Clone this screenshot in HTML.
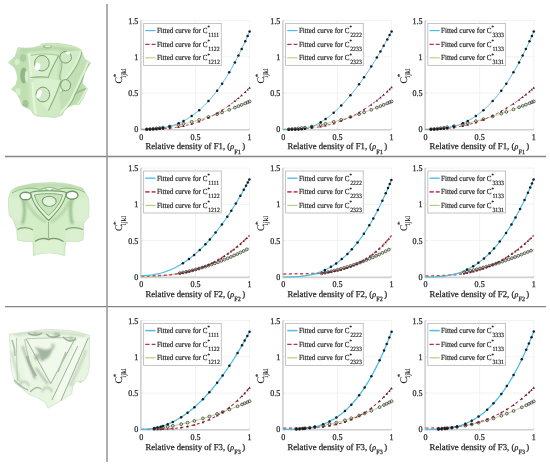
<!DOCTYPE html>
<html><head><meta charset="utf-8"><title>Figure</title><style>
html,body{margin:0;padding:0;background:#fff;}
svg{display:block;}
text{font-family:"Liberation Serif", "Times New Roman", serif;fill:#262626;text-rendering:geometricPrecision;stroke:#262626;stroke-width:0.25px;}
.tk{font-size:8.8px;}
.xl{font-size:9px;}
.sub{font-size:6.4px;}
.rho{font-size:8.2px;}
.yl{font-size:10px;stroke-width:0.12px;}
.ysup{font-size:7px;}
.ysub{font-size:7px;}
.lg{font-size:7.7px;stroke-width:0.2px;}
.lsup{font-size:5.2px;}
.lsub{font-size:6.3px;}
</style></head>
<body><svg width="550" height="466" viewBox="0 0 550 466">
<rect width="550" height="466" fill="#fff"/>
<line x1="5" y1="156.5" x2="546" y2="156.5" stroke="#858585" stroke-width="1.4"/>
<line x1="5" y1="306.6" x2="546" y2="306.6" stroke="#858585" stroke-width="1.4"/>
<line x1="107" y1="4" x2="107" y2="462" stroke="#9a9a9a" stroke-width="1.6"/>
<line x1="195.45" y1="129.40" x2="195.45" y2="20.50" stroke="#efefef" stroke-width="0.8"/>
<line x1="249.60" y1="129.40" x2="249.60" y2="20.50" stroke="#efefef" stroke-width="0.8"/>
<line x1="141.30" y1="93.10" x2="249.60" y2="93.10" stroke="#efefef" stroke-width="0.8"/>
<line x1="141.30" y1="56.80" x2="249.60" y2="56.80" stroke="#efefef" stroke-width="0.8"/>
<line x1="141.30" y1="20.50" x2="249.60" y2="20.50" stroke="#efefef" stroke-width="0.8"/>
<path d="M140.90 20.50 L140.90 129.80 L249.60 129.80" fill="none" stroke="#d0d0d0" stroke-width="1.6"/>
<line x1="141.30" y1="93.10" x2="142.50" y2="93.10" stroke="#d0d0d0" stroke-width="0.8"/>
<line x1="141.30" y1="56.80" x2="142.50" y2="56.80" stroke="#d0d0d0" stroke-width="0.8"/>
<line x1="141.30" y1="20.50" x2="142.50" y2="20.50" stroke="#d0d0d0" stroke-width="0.8"/>
<line x1="195.45" y1="129.40" x2="195.45" y2="128.20" stroke="#d0d0d0" stroke-width="0.8"/>
<line x1="249.60" y1="129.40" x2="249.60" y2="128.20" stroke="#d0d0d0" stroke-width="0.8"/>
<text transform="translate(138.30,132.40) scale(0.92,1)" text-anchor="end" class="tk">0</text>
<text transform="translate(138.30,96.10) scale(0.92,1)" text-anchor="end" class="tk">0.5</text>
<text transform="translate(138.30,59.80) scale(0.92,1)" text-anchor="end" class="tk">1</text>
<text transform="translate(138.30,23.50) scale(0.92,1)" text-anchor="end" class="tk">1.5</text>
<text transform="translate(141.30,139.80) scale(0.92,1)" text-anchor="middle" class="tk">0</text>
<text transform="translate(195.45,139.80) scale(0.92,1)" text-anchor="middle" class="tk">0.5</text>
<text transform="translate(249.60,139.80) scale(0.92,1)" text-anchor="middle" class="tk">1</text>
<text transform="translate(145.40,149.30) scale(0.972,1)" class="xl">Relative density of F1, (<tspan font-style="italic" class="rho">ρ</tspan><tspan class="sub" dx="0.3" dy="4.2">F1</tspan><tspan dx="1.3" dy="-4.2">)</tspan></text>
<text transform="translate(122.30,75.85) rotate(-90)" text-anchor="middle" class="yl">C<tspan class="ysup" dx="-0.6" dy="-4.7">*</tspan><tspan class="ysub" dx="-3.8" dy="7.9">ijkl</tspan></text>
<polyline points="141.30,129.40 142.21,129.39 143.12,129.37 144.03,129.35 144.94,129.31 145.85,129.27 146.76,129.23 147.67,129.17 148.58,129.12 149.49,129.05 150.40,128.99 151.31,128.91 152.22,128.83 153.13,128.75 154.04,128.66 154.95,128.57 155.86,128.48 156.77,128.38 157.68,128.27 158.59,128.16 159.50,128.05 160.41,127.94 161.32,127.81 162.23,127.69 163.14,127.56 164.05,127.43 164.96,127.29 165.87,127.15 166.78,127.01 167.69,126.86 168.60,126.71 169.51,126.56 170.42,126.40 171.33,126.24 172.24,126.08 173.15,125.91 174.06,125.74 174.97,125.56 175.88,125.39 176.79,125.20 177.70,125.02 178.61,124.83 179.52,124.64 180.43,124.45 181.34,124.25 182.25,124.05 183.16,123.85 184.07,123.64 184.98,123.43 185.89,123.22 186.80,123.00 187.71,122.78 188.62,122.56 189.53,122.33 190.44,122.10 191.35,121.87 192.26,121.64 193.17,121.40 194.08,121.16 194.99,120.92 195.91,120.67 196.82,120.43 197.73,120.17 198.64,119.92 199.55,119.66 200.46,119.40 201.37,119.14 202.28,118.87 203.19,118.60 204.10,118.33 205.01,118.06 205.92,117.78 206.83,117.50 207.74,117.22 208.65,116.94 209.56,116.65 210.47,116.36 211.38,116.06 212.29,115.77 213.20,115.47 214.11,115.17 215.02,114.87 215.93,114.56 216.84,114.25 217.75,113.94 218.66,113.62 219.57,113.31 220.48,112.99 221.39,112.67 222.30,112.34 223.21,112.01 224.12,111.69 225.03,111.35 225.94,111.02 226.85,110.68 227.76,110.34 228.67,110.00 229.58,109.65 230.49,109.31 231.40,108.96 232.31,108.60 233.22,108.25 234.13,107.89 235.04,107.53 235.95,107.17 236.86,106.81 237.77,106.44 238.68,106.07 239.59,105.70 240.50,105.32 241.41,104.95 242.32,104.57 243.23,104.19 244.14,103.80 245.05,103.42 245.96,103.03 246.87,102.64 247.78,102.24 248.69,101.85 249.60,101.45" fill="none" stroke="#b0d080" stroke-width="0.9"/>
<polyline points="141.30,129.40 142.21,129.40 143.12,129.40 144.03,129.40 144.94,129.39 145.85,129.39 146.76,129.38 147.67,129.38 148.58,129.37 149.49,129.36 150.40,129.34 151.31,129.32 152.22,129.30 153.13,129.28 154.04,129.26 154.95,129.23 155.86,129.20 156.77,129.16 157.68,129.12 158.59,129.08 159.50,129.03 160.41,128.98 161.32,128.92 162.23,128.86 163.14,128.80 164.05,128.73 164.96,128.66 165.87,128.58 166.78,128.50 167.69,128.41 168.60,128.32 169.51,128.22 170.42,128.11 171.33,128.01 172.24,127.89 173.15,127.77 174.06,127.64 174.97,127.51 175.88,127.37 176.79,127.23 177.70,127.08 178.61,126.92 179.52,126.76 180.43,126.59 181.34,126.41 182.25,126.23 183.16,126.04 184.07,125.84 184.98,125.64 185.89,125.42 186.80,125.21 187.71,124.98 188.62,124.75 189.53,124.51 190.44,124.26 191.35,124.00 192.26,123.74 193.17,123.46 194.08,123.18 194.99,122.90 195.91,122.60 196.82,122.30 197.73,121.98 198.64,121.66 199.55,121.33 200.46,120.99 201.37,120.65 202.28,120.29 203.19,119.93 204.10,119.55 205.01,119.17 205.92,118.78 206.83,118.38 207.74,117.97 208.65,117.55 209.56,117.12 210.47,116.68 211.38,116.23 212.29,115.77 213.20,115.30 214.11,114.83 215.02,114.34 215.93,113.84 216.84,113.33 217.75,112.81 218.66,112.29 219.57,111.75 220.48,111.20 221.39,110.64 222.30,110.07 223.21,109.49 224.12,108.89 225.03,108.29 225.94,107.68 226.85,107.05 227.76,106.42 228.67,105.77 229.58,105.11 230.49,104.45 231.40,103.76 232.31,103.07 233.22,102.37 234.13,101.65 235.04,100.93 235.95,100.19 236.86,99.44 237.77,98.68 238.68,97.90 239.59,97.12 240.50,96.32 241.41,95.51 242.32,94.69 243.23,93.85 244.14,93.00 245.05,92.14 245.96,91.27 246.87,90.39 247.78,89.49 248.69,88.58 249.60,87.66" fill="none" stroke="#b8304a" stroke-width="1.0" stroke-dasharray="3,2.6"/>
<polyline points="141.30,129.40 142.21,129.40 143.12,129.40 144.03,129.39 144.94,129.39 145.85,129.37 146.76,129.36 147.67,129.34 148.58,129.31 149.49,129.28 150.40,129.24 151.31,129.20 152.22,129.15 153.13,129.09 154.04,129.02 154.95,128.95 155.86,128.87 156.77,128.78 157.68,128.68 158.59,128.57 159.50,128.45 160.41,128.32 161.32,128.18 162.23,128.03 163.14,127.87 164.05,127.70 164.96,127.52 165.87,127.33 166.78,127.12 167.69,126.90 168.60,126.68 169.51,126.43 170.42,126.18 171.33,125.91 172.24,125.63 173.15,125.33 174.06,125.02 174.97,124.70 175.88,124.36 176.79,124.01 177.70,123.64 178.61,123.26 179.52,122.86 180.43,122.45 181.34,122.02 182.25,121.58 183.16,121.12 184.07,120.64 184.98,120.15 185.89,119.64 186.80,119.12 187.71,118.57 188.62,118.01 189.53,117.43 190.44,116.84 191.35,116.22 192.26,115.59 193.17,114.94 194.08,114.27 194.99,113.59 195.91,112.88 196.82,112.15 197.73,111.41 198.64,110.64 199.55,109.86 200.46,109.06 201.37,108.23 202.28,107.39 203.19,106.52 204.10,105.64 205.01,104.73 205.92,103.81 206.83,102.86 207.74,101.89 208.65,100.90 209.56,99.89 210.47,98.85 211.38,97.80 212.29,96.72 213.20,95.62 214.11,94.50 215.02,93.35 215.93,92.18 216.84,90.99 217.75,89.77 218.66,88.54 219.57,87.27 220.48,85.99 221.39,84.68 222.30,83.35 223.21,81.99 224.12,80.61 225.03,79.20 225.94,77.77 226.85,76.31 227.76,74.83 228.67,73.33 229.58,71.80 230.49,70.24 231.40,68.66 232.31,67.05 233.22,65.41 234.13,63.75 235.04,62.07 235.95,60.35 236.86,58.62 237.77,56.85 238.68,55.06 239.59,53.24 240.50,51.39 241.41,49.51 242.32,47.61 243.23,45.68 244.14,43.73 245.05,41.74 245.96,39.73 246.87,37.69 247.78,35.62 248.69,33.52 249.60,31.39" fill="none" stroke="#4dbdec" stroke-width="1.0"/>
<circle cx="146.72" cy="129.23" r="1.4" fill="none" stroke="#3e3e3e" stroke-width="0.8"/>
<circle cx="149.96" cy="129.02" r="1.4" fill="none" stroke="#3e3e3e" stroke-width="0.8"/>
<circle cx="153.21" cy="128.74" r="1.4" fill="none" stroke="#3e3e3e" stroke-width="0.8"/>
<circle cx="156.46" cy="128.41" r="1.4" fill="none" stroke="#3e3e3e" stroke-width="0.8"/>
<circle cx="159.71" cy="128.03" r="1.4" fill="none" stroke="#3e3e3e" stroke-width="0.8"/>
<circle cx="162.96" cy="127.59" r="1.4" fill="none" stroke="#3e3e3e" stroke-width="0.8"/>
<circle cx="169.67" cy="126.53" r="1.4" fill="none" stroke="#3e3e3e" stroke-width="0.8"/>
<circle cx="178.66" cy="124.82" r="1.4" fill="none" stroke="#3e3e3e" stroke-width="0.8"/>
<circle cx="183.54" cy="123.76" r="1.4" fill="none" stroke="#3e3e3e" stroke-width="0.8"/>
<circle cx="191.66" cy="121.80" r="1.4" fill="none" stroke="#3e3e3e" stroke-width="0.8"/>
<circle cx="199.24" cy="119.75" r="1.4" fill="none" stroke="#3e3e3e" stroke-width="0.8"/>
<circle cx="208.45" cy="117.00" r="1.4" fill="none" stroke="#3e3e3e" stroke-width="0.8"/>
<circle cx="217.11" cy="114.16" r="1.4" fill="none" stroke="#3e3e3e" stroke-width="0.8"/>
<circle cx="222.09" cy="112.42" r="1.4" fill="none" stroke="#3e3e3e" stroke-width="0.8"/>
<circle cx="229.24" cy="109.78" r="1.4" fill="none" stroke="#3e3e3e" stroke-width="0.8"/>
<circle cx="234.87" cy="107.60" r="1.4" fill="none" stroke="#3e3e3e" stroke-width="0.8"/>
<circle cx="238.45" cy="106.16" r="1.4" fill="none" stroke="#3e3e3e" stroke-width="0.8"/>
<circle cx="241.69" cy="104.83" r="1.4" fill="none" stroke="#3e3e3e" stroke-width="0.8"/>
<circle cx="245.27" cy="103.32" r="1.4" fill="none" stroke="#3e3e3e" stroke-width="0.8"/>
<circle cx="247.65" cy="102.30" r="1.4" fill="none" stroke="#3e3e3e" stroke-width="0.8"/>
<circle cx="249.60" cy="101.45" r="1.4" fill="none" stroke="#3e3e3e" stroke-width="0.8"/>
<path d="M145.52 130.39 L147.91 130.39 L146.72 128.19Z" fill="#5a1f2a"/>
<path d="M148.76 130.35 L151.16 130.35 L149.96 128.15Z" fill="#5a1f2a"/>
<path d="M152.01 130.28 L154.41 130.28 L153.21 128.08Z" fill="#5a1f2a"/>
<path d="M155.26 130.17 L157.66 130.17 L156.46 127.97Z" fill="#5a1f2a"/>
<path d="M158.51 130.02 L160.91 130.02 L159.71 127.82Z" fill="#5a1f2a"/>
<path d="M161.76 129.81 L164.16 129.81 L162.96 127.61Z" fill="#5a1f2a"/>
<path d="M168.47 129.20 L170.87 129.20 L169.67 127.00Z" fill="#5a1f2a"/>
<path d="M177.46 127.91 L179.86 127.91 L178.66 125.71Z" fill="#5a1f2a"/>
<path d="M182.34 126.96 L184.74 126.96 L183.54 124.76Z" fill="#5a1f2a"/>
<path d="M190.46 124.91 L192.86 124.91 L191.66 122.71Z" fill="#5a1f2a"/>
<path d="M198.04 122.44 L200.44 122.44 L199.24 120.24Z" fill="#5a1f2a"/>
<path d="M207.25 118.64 L209.65 118.64 L208.45 116.44Z" fill="#5a1f2a"/>
<path d="M215.91 114.18 L218.31 114.18 L217.11 111.98Z" fill="#5a1f2a"/>
<path d="M220.89 111.20 L223.29 111.20 L222.09 109.00Z" fill="#5a1f2a"/>
<path d="M228.04 106.36 L230.44 106.36 L229.24 104.16Z" fill="#5a1f2a"/>
<path d="M233.67 102.06 L236.07 102.06 L234.87 99.86Z" fill="#5a1f2a"/>
<path d="M237.25 99.10 L239.65 99.10 L238.45 96.90Z" fill="#5a1f2a"/>
<path d="M240.49 96.25 L242.89 96.25 L241.69 94.05Z" fill="#5a1f2a"/>
<path d="M244.07 92.94 L246.47 92.94 L245.27 90.74Z" fill="#5a1f2a"/>
<path d="M246.45 90.62 L248.85 90.62 L247.65 88.42Z" fill="#5a1f2a"/>
<path d="M248.40 88.66 L250.80 88.66 L249.60 86.46Z" fill="#5a1f2a"/>
<circle cx="146.72" cy="129.36" r="1.25" fill="#1a1a1a"/>
<circle cx="149.96" cy="129.26" r="1.25" fill="#1a1a1a"/>
<circle cx="153.21" cy="129.08" r="1.25" fill="#1a1a1a"/>
<circle cx="156.46" cy="128.81" r="1.25" fill="#1a1a1a"/>
<circle cx="159.71" cy="128.42" r="1.25" fill="#1a1a1a"/>
<circle cx="162.96" cy="127.91" r="1.25" fill="#1a1a1a"/>
<circle cx="169.67" cy="126.39" r="1.25" fill="#1a1a1a"/>
<circle cx="178.66" cy="123.24" r="1.25" fill="#1a1a1a"/>
<circle cx="183.54" cy="120.93" r="1.25" fill="#1a1a1a"/>
<circle cx="191.66" cy="116.01" r="1.25" fill="#1a1a1a"/>
<circle cx="199.24" cy="110.13" r="1.25" fill="#1a1a1a"/>
<circle cx="208.45" cy="101.12" r="1.25" fill="#1a1a1a"/>
<circle cx="217.11" cy="90.63" r="1.25" fill="#1a1a1a"/>
<circle cx="222.09" cy="83.65" r="1.25" fill="#1a1a1a"/>
<circle cx="229.24" cy="72.37" r="1.25" fill="#1a1a1a"/>
<circle cx="234.87" cy="62.38" r="1.25" fill="#1a1a1a"/>
<circle cx="238.45" cy="55.52" r="1.25" fill="#1a1a1a"/>
<circle cx="241.69" cy="48.92" r="1.25" fill="#1a1a1a"/>
<circle cx="245.27" cy="41.26" r="1.25" fill="#1a1a1a"/>
<circle cx="247.65" cy="35.91" r="1.25" fill="#1a1a1a"/>
<circle cx="249.60" cy="31.39" r="1.25" fill="#1a1a1a"/>
<rect x="143.60" y="23.40" width="77.70" height="42.00" fill="#fff" stroke="#bdbdbd" stroke-width="0.9"/>
<line x1="145.30" y1="30.60" x2="155.50" y2="30.60" stroke="#4dbdec" stroke-width="1.2"/>
<text transform="translate(156.90,32.90) scale(0.92,1)" class="lg">Fitted curve for C<tspan class="lsup" dy="-3.6">*</tspan><tspan class="lsub" dx="-1.7" dy="7.6">1111</tspan></text>
<line x1="145.30" y1="44.30" x2="155.50" y2="44.30" stroke="#b8304a" stroke-width="1.2" stroke-dasharray="4.3,2"/>
<text transform="translate(156.90,46.60) scale(0.92,1)" class="lg">Fitted curve for C<tspan class="lsup" dy="-3.6">*</tspan><tspan class="lsub" dx="-1.7" dy="7.6">1122</tspan></text>
<line x1="145.30" y1="57.80" x2="155.50" y2="57.80" stroke="#b0d080" stroke-width="1.1"/>
<text transform="translate(156.90,60.10) scale(0.92,1)" class="lg">Fitted curve for C<tspan class="lsup" dy="-3.6">*</tspan><tspan class="lsub" dx="-1.7" dy="7.6">1212</tspan></text>
<line x1="337.45" y1="129.40" x2="337.45" y2="20.50" stroke="#efefef" stroke-width="0.8"/>
<line x1="391.60" y1="129.40" x2="391.60" y2="20.50" stroke="#efefef" stroke-width="0.8"/>
<line x1="283.30" y1="93.10" x2="391.60" y2="93.10" stroke="#efefef" stroke-width="0.8"/>
<line x1="283.30" y1="56.80" x2="391.60" y2="56.80" stroke="#efefef" stroke-width="0.8"/>
<line x1="283.30" y1="20.50" x2="391.60" y2="20.50" stroke="#efefef" stroke-width="0.8"/>
<path d="M282.90 20.50 L282.90 129.80 L391.60 129.80" fill="none" stroke="#d0d0d0" stroke-width="1.6"/>
<line x1="283.30" y1="93.10" x2="284.50" y2="93.10" stroke="#d0d0d0" stroke-width="0.8"/>
<line x1="283.30" y1="56.80" x2="284.50" y2="56.80" stroke="#d0d0d0" stroke-width="0.8"/>
<line x1="283.30" y1="20.50" x2="284.50" y2="20.50" stroke="#d0d0d0" stroke-width="0.8"/>
<line x1="337.45" y1="129.40" x2="337.45" y2="128.20" stroke="#d0d0d0" stroke-width="0.8"/>
<line x1="391.60" y1="129.40" x2="391.60" y2="128.20" stroke="#d0d0d0" stroke-width="0.8"/>
<text transform="translate(280.30,132.40) scale(0.92,1)" text-anchor="end" class="tk">0</text>
<text transform="translate(280.30,96.10) scale(0.92,1)" text-anchor="end" class="tk">0.5</text>
<text transform="translate(280.30,59.80) scale(0.92,1)" text-anchor="end" class="tk">1</text>
<text transform="translate(280.30,23.50) scale(0.92,1)" text-anchor="end" class="tk">1.5</text>
<text transform="translate(283.30,139.80) scale(0.92,1)" text-anchor="middle" class="tk">0</text>
<text transform="translate(337.45,139.80) scale(0.92,1)" text-anchor="middle" class="tk">0.5</text>
<text transform="translate(391.60,139.80) scale(0.92,1)" text-anchor="middle" class="tk">1</text>
<text transform="translate(287.40,149.30) scale(0.972,1)" class="xl">Relative density of F1, (<tspan font-style="italic" class="rho">ρ</tspan><tspan class="sub" dx="0.3" dy="4.2">F1</tspan><tspan dx="1.3" dy="-4.2">)</tspan></text>
<text transform="translate(264.30,75.85) rotate(-90)" text-anchor="middle" class="yl">C<tspan class="ysup" dx="-0.6" dy="-4.7">*</tspan><tspan class="ysub" dx="-3.8" dy="7.9">ijkl</tspan></text>
<polyline points="283.30,129.40 284.21,129.39 285.12,129.37 286.03,129.35 286.94,129.31 287.85,129.27 288.76,129.23 289.67,129.17 290.58,129.12 291.49,129.05 292.40,128.99 293.31,128.91 294.22,128.83 295.13,128.75 296.04,128.66 296.95,128.57 297.86,128.48 298.77,128.38 299.68,128.27 300.59,128.16 301.50,128.05 302.41,127.94 303.32,127.81 304.23,127.69 305.14,127.56 306.05,127.43 306.96,127.29 307.87,127.15 308.78,127.01 309.69,126.86 310.60,126.71 311.51,126.56 312.42,126.40 313.33,126.24 314.24,126.08 315.15,125.91 316.06,125.74 316.97,125.56 317.88,125.39 318.79,125.20 319.70,125.02 320.61,124.83 321.52,124.64 322.43,124.45 323.34,124.25 324.25,124.05 325.16,123.85 326.07,123.64 326.98,123.43 327.89,123.22 328.80,123.00 329.71,122.78 330.62,122.56 331.53,122.33 332.44,122.10 333.35,121.87 334.26,121.64 335.17,121.40 336.08,121.16 336.99,120.92 337.91,120.67 338.82,120.43 339.73,120.17 340.64,119.92 341.55,119.66 342.46,119.40 343.37,119.14 344.28,118.87 345.19,118.60 346.10,118.33 347.01,118.06 347.92,117.78 348.83,117.50 349.74,117.22 350.65,116.94 351.56,116.65 352.47,116.36 353.38,116.06 354.29,115.77 355.20,115.47 356.11,115.17 357.02,114.87 357.93,114.56 358.84,114.25 359.75,113.94 360.66,113.62 361.57,113.31 362.48,112.99 363.39,112.67 364.30,112.34 365.21,112.01 366.12,111.69 367.03,111.35 367.94,111.02 368.85,110.68 369.76,110.34 370.67,110.00 371.58,109.65 372.49,109.31 373.40,108.96 374.31,108.60 375.22,108.25 376.13,107.89 377.04,107.53 377.95,107.17 378.86,106.81 379.77,106.44 380.68,106.07 381.59,105.70 382.50,105.32 383.41,104.95 384.32,104.57 385.23,104.19 386.14,103.80 387.05,103.42 387.96,103.03 388.87,102.64 389.78,102.24 390.69,101.85 391.60,101.45" fill="none" stroke="#b0d080" stroke-width="0.9"/>
<polyline points="283.30,129.40 284.21,129.40 285.12,129.40 286.03,129.40 286.94,129.39 287.85,129.39 288.76,129.38 289.67,129.37 290.58,129.36 291.49,129.34 292.40,129.32 293.31,129.30 294.22,129.28 295.13,129.25 296.04,129.22 296.95,129.19 297.86,129.15 298.77,129.11 299.68,129.06 300.59,129.01 301.50,128.95 302.41,128.89 303.32,128.83 304.23,128.76 305.14,128.69 306.05,128.61 306.96,128.53 307.87,128.44 308.78,128.35 309.69,128.25 310.60,128.15 311.51,128.04 312.42,127.92 313.33,127.80 314.24,127.67 315.15,127.54 316.06,127.40 316.97,127.26 317.88,127.11 318.79,126.95 319.70,126.79 320.61,126.62 321.52,126.44 322.43,126.26 323.34,126.07 324.25,125.87 325.16,125.67 326.07,125.46 326.98,125.24 327.89,125.02 328.80,124.79 329.71,124.55 330.62,124.30 331.53,124.05 332.44,123.79 333.35,123.52 334.26,123.24 335.17,122.96 336.08,122.66 336.99,122.36 337.91,122.05 338.82,121.74 339.73,121.41 340.64,121.08 341.55,120.74 342.46,120.39 343.37,120.03 344.28,119.67 345.19,119.29 346.10,118.91 347.01,118.52 347.92,118.12 348.83,117.71 349.74,117.29 350.65,116.86 351.56,116.42 352.47,115.98 353.38,115.52 354.29,115.06 355.20,114.59 356.11,114.10 357.02,113.61 357.93,113.11 358.84,112.60 359.75,112.08 360.66,111.55 361.57,111.01 362.48,110.46 363.39,109.89 364.30,109.32 365.21,108.74 366.12,108.15 367.03,107.55 367.94,106.94 368.85,106.32 369.76,105.69 370.67,105.05 371.58,104.40 372.49,103.73 373.40,103.06 374.31,102.38 375.22,101.68 376.13,100.98 377.04,100.26 377.95,99.54 378.86,98.80 379.77,98.05 380.68,97.29 381.59,96.52 382.50,95.74 383.41,94.94 384.32,94.14 385.23,93.32 386.14,92.50 387.05,91.66 387.96,90.81 388.87,89.95 389.78,89.07 390.69,88.19 391.60,87.29" fill="none" stroke="#b8304a" stroke-width="1.0" stroke-dasharray="3,2.6"/>
<polyline points="283.30,129.40 284.21,129.40 285.12,129.40 286.03,129.40 286.94,129.40 287.85,129.40 288.76,129.40 289.67,129.40 290.58,129.40 291.49,129.40 292.40,129.40 293.31,129.40 294.22,129.40 295.13,129.40 296.04,129.40 296.95,129.40 297.86,129.40 298.77,129.40 299.68,129.40 300.59,129.37 301.50,129.30 302.41,129.20 303.32,129.07 304.23,128.91 305.14,128.73 306.05,128.52 306.96,128.29 307.87,128.04 308.78,127.76 309.69,127.47 310.60,127.15 311.51,126.81 312.42,126.44 313.33,126.06 314.24,125.66 315.15,125.24 316.06,124.79 316.97,124.33 317.88,123.85 318.79,123.35 319.70,122.84 320.61,122.30 321.52,121.74 322.43,121.17 323.34,120.58 324.25,119.97 325.16,119.34 326.07,118.70 326.98,118.04 327.89,117.36 328.80,116.66 329.71,115.94 330.62,115.21 331.53,114.47 332.44,113.70 333.35,112.92 334.26,112.12 335.17,111.31 336.08,110.48 336.99,109.63 337.91,108.77 338.82,107.89 339.73,106.99 340.64,106.08 341.55,105.15 342.46,104.21 343.37,103.25 344.28,102.28 345.19,101.29 346.10,100.28 347.01,99.26 347.92,98.22 348.83,97.17 349.74,96.10 350.65,95.02 351.56,93.93 352.47,92.81 353.38,91.69 354.29,90.54 355.20,89.39 356.11,88.21 357.02,87.03 357.93,85.82 358.84,84.61 359.75,83.38 360.66,82.13 361.57,80.87 362.48,79.60 363.39,78.31 364.30,77.00 365.21,75.69 366.12,74.35 367.03,73.01 367.94,71.65 368.85,70.27 369.76,68.88 370.67,67.48 371.58,66.06 372.49,64.63 373.40,63.18 374.31,61.72 375.22,60.25 376.13,58.76 377.04,57.26 377.95,55.75 378.86,54.22 379.77,52.68 380.68,51.12 381.59,49.55 382.50,47.97 383.41,46.37 384.32,44.76 385.23,43.14 386.14,41.50 387.05,39.85 387.96,38.18 388.87,36.50 389.78,34.81 390.69,33.11 391.60,31.39" fill="none" stroke="#4dbdec" stroke-width="1.0"/>
<circle cx="288.72" cy="129.23" r="1.4" fill="none" stroke="#3e3e3e" stroke-width="0.8"/>
<circle cx="291.96" cy="129.02" r="1.4" fill="none" stroke="#3e3e3e" stroke-width="0.8"/>
<circle cx="295.21" cy="128.74" r="1.4" fill="none" stroke="#3e3e3e" stroke-width="0.8"/>
<circle cx="298.46" cy="128.41" r="1.4" fill="none" stroke="#3e3e3e" stroke-width="0.8"/>
<circle cx="301.71" cy="128.03" r="1.4" fill="none" stroke="#3e3e3e" stroke-width="0.8"/>
<circle cx="304.96" cy="127.59" r="1.4" fill="none" stroke="#3e3e3e" stroke-width="0.8"/>
<circle cx="311.67" cy="126.53" r="1.4" fill="none" stroke="#3e3e3e" stroke-width="0.8"/>
<circle cx="320.66" cy="124.82" r="1.4" fill="none" stroke="#3e3e3e" stroke-width="0.8"/>
<circle cx="325.54" cy="123.76" r="1.4" fill="none" stroke="#3e3e3e" stroke-width="0.8"/>
<circle cx="333.66" cy="121.80" r="1.4" fill="none" stroke="#3e3e3e" stroke-width="0.8"/>
<circle cx="341.24" cy="119.75" r="1.4" fill="none" stroke="#3e3e3e" stroke-width="0.8"/>
<circle cx="350.45" cy="117.00" r="1.4" fill="none" stroke="#3e3e3e" stroke-width="0.8"/>
<circle cx="359.11" cy="114.16" r="1.4" fill="none" stroke="#3e3e3e" stroke-width="0.8"/>
<circle cx="364.09" cy="112.42" r="1.4" fill="none" stroke="#3e3e3e" stroke-width="0.8"/>
<circle cx="371.24" cy="109.78" r="1.4" fill="none" stroke="#3e3e3e" stroke-width="0.8"/>
<circle cx="376.87" cy="107.60" r="1.4" fill="none" stroke="#3e3e3e" stroke-width="0.8"/>
<circle cx="380.45" cy="106.16" r="1.4" fill="none" stroke="#3e3e3e" stroke-width="0.8"/>
<circle cx="383.69" cy="104.83" r="1.4" fill="none" stroke="#3e3e3e" stroke-width="0.8"/>
<circle cx="387.27" cy="103.32" r="1.4" fill="none" stroke="#3e3e3e" stroke-width="0.8"/>
<circle cx="389.65" cy="102.30" r="1.4" fill="none" stroke="#3e3e3e" stroke-width="0.8"/>
<circle cx="391.60" cy="101.45" r="1.4" fill="none" stroke="#3e3e3e" stroke-width="0.8"/>
<path d="M287.52 130.38 L289.92 130.38 L288.72 128.18Z" fill="#5a1f2a"/>
<path d="M290.76 130.33 L293.16 130.33 L291.96 128.13Z" fill="#5a1f2a"/>
<path d="M294.01 130.25 L296.41 130.25 L295.21 128.05Z" fill="#5a1f2a"/>
<path d="M297.26 130.12 L299.66 130.12 L298.46 127.92Z" fill="#5a1f2a"/>
<path d="M300.51 129.94 L302.91 129.94 L301.71 127.74Z" fill="#5a1f2a"/>
<path d="M303.76 129.70 L306.16 129.70 L304.96 127.50Z" fill="#5a1f2a"/>
<path d="M310.47 129.02 L312.87 129.02 L311.67 126.82Z" fill="#5a1f2a"/>
<path d="M319.46 127.61 L321.86 127.61 L320.66 125.41Z" fill="#5a1f2a"/>
<path d="M324.34 126.58 L326.74 126.58 L325.54 124.38Z" fill="#5a1f2a"/>
<path d="M332.46 124.42 L334.86 124.42 L333.66 122.22Z" fill="#5a1f2a"/>
<path d="M340.04 121.86 L342.44 121.86 L341.24 119.66Z" fill="#5a1f2a"/>
<path d="M349.25 117.96 L351.65 117.96 L350.45 115.76Z" fill="#5a1f2a"/>
<path d="M357.91 113.44 L360.31 113.44 L359.11 111.24Z" fill="#5a1f2a"/>
<path d="M362.89 110.45 L365.29 110.45 L364.09 108.25Z" fill="#5a1f2a"/>
<path d="M370.04 105.64 L372.44 105.64 L371.24 103.44Z" fill="#5a1f2a"/>
<path d="M375.67 101.39 L378.07 101.39 L376.87 99.19Z" fill="#5a1f2a"/>
<path d="M379.25 98.49 L381.65 98.49 L380.45 96.29Z" fill="#5a1f2a"/>
<path d="M382.49 95.69 L384.89 95.69 L383.69 93.49Z" fill="#5a1f2a"/>
<path d="M386.07 92.45 L388.47 92.45 L387.27 90.25Z" fill="#5a1f2a"/>
<path d="M388.45 90.20 L390.85 90.20 L389.65 88.00Z" fill="#5a1f2a"/>
<path d="M390.40 88.29 L392.80 88.29 L391.60 86.09Z" fill="#5a1f2a"/>
<circle cx="288.72" cy="129.40" r="1.25" fill="#1a1a1a"/>
<circle cx="291.96" cy="129.40" r="1.25" fill="#1a1a1a"/>
<circle cx="295.21" cy="129.40" r="1.25" fill="#1a1a1a"/>
<circle cx="298.46" cy="129.40" r="1.25" fill="#1a1a1a"/>
<circle cx="301.71" cy="129.28" r="1.25" fill="#1a1a1a"/>
<circle cx="304.96" cy="128.77" r="1.25" fill="#1a1a1a"/>
<circle cx="311.67" cy="126.74" r="1.25" fill="#1a1a1a"/>
<circle cx="320.66" cy="122.27" r="1.25" fill="#1a1a1a"/>
<circle cx="325.54" cy="119.08" r="1.25" fill="#1a1a1a"/>
<circle cx="333.66" cy="112.65" r="1.25" fill="#1a1a1a"/>
<circle cx="341.24" cy="105.47" r="1.25" fill="#1a1a1a"/>
<circle cx="350.45" cy="95.26" r="1.25" fill="#1a1a1a"/>
<circle cx="359.11" cy="84.24" r="1.25" fill="#1a1a1a"/>
<circle cx="364.09" cy="77.30" r="1.25" fill="#1a1a1a"/>
<circle cx="371.24" cy="66.59" r="1.25" fill="#1a1a1a"/>
<circle cx="376.87" cy="57.54" r="1.25" fill="#1a1a1a"/>
<circle cx="380.45" cy="51.52" r="1.25" fill="#1a1a1a"/>
<circle cx="383.69" cy="45.87" r="1.25" fill="#1a1a1a"/>
<circle cx="387.27" cy="39.45" r="1.25" fill="#1a1a1a"/>
<circle cx="389.65" cy="35.05" r="1.25" fill="#1a1a1a"/>
<circle cx="391.60" cy="31.39" r="1.25" fill="#1a1a1a"/>
<rect x="285.60" y="23.40" width="77.70" height="42.00" fill="#fff" stroke="#bdbdbd" stroke-width="0.9"/>
<line x1="287.30" y1="30.60" x2="297.50" y2="30.60" stroke="#4dbdec" stroke-width="1.2"/>
<text transform="translate(298.90,32.90) scale(0.92,1)" class="lg">Fitted curve for C<tspan class="lsup" dy="-3.6">*</tspan><tspan class="lsub" dx="-1.7" dy="7.6">2222</tspan></text>
<line x1="287.30" y1="44.30" x2="297.50" y2="44.30" stroke="#b8304a" stroke-width="1.2" stroke-dasharray="4.3,2"/>
<text transform="translate(298.90,46.60) scale(0.92,1)" class="lg">Fitted curve for C<tspan class="lsup" dy="-3.6">*</tspan><tspan class="lsub" dx="-1.7" dy="7.6">2233</tspan></text>
<line x1="287.30" y1="57.80" x2="297.50" y2="57.80" stroke="#b0d080" stroke-width="1.1"/>
<text transform="translate(298.90,60.10) scale(0.92,1)" class="lg">Fitted curve for C<tspan class="lsup" dy="-3.6">*</tspan><tspan class="lsub" dx="-1.7" dy="7.6">2323</tspan></text>
<line x1="479.65" y1="129.40" x2="479.65" y2="20.50" stroke="#efefef" stroke-width="0.8"/>
<line x1="533.80" y1="129.40" x2="533.80" y2="20.50" stroke="#efefef" stroke-width="0.8"/>
<line x1="425.50" y1="93.10" x2="533.80" y2="93.10" stroke="#efefef" stroke-width="0.8"/>
<line x1="425.50" y1="56.80" x2="533.80" y2="56.80" stroke="#efefef" stroke-width="0.8"/>
<line x1="425.50" y1="20.50" x2="533.80" y2="20.50" stroke="#efefef" stroke-width="0.8"/>
<path d="M425.10 20.50 L425.10 129.80 L533.80 129.80" fill="none" stroke="#d0d0d0" stroke-width="1.6"/>
<line x1="425.50" y1="93.10" x2="426.70" y2="93.10" stroke="#d0d0d0" stroke-width="0.8"/>
<line x1="425.50" y1="56.80" x2="426.70" y2="56.80" stroke="#d0d0d0" stroke-width="0.8"/>
<line x1="425.50" y1="20.50" x2="426.70" y2="20.50" stroke="#d0d0d0" stroke-width="0.8"/>
<line x1="479.65" y1="129.40" x2="479.65" y2="128.20" stroke="#d0d0d0" stroke-width="0.8"/>
<line x1="533.80" y1="129.40" x2="533.80" y2="128.20" stroke="#d0d0d0" stroke-width="0.8"/>
<text transform="translate(422.50,132.40) scale(0.92,1)" text-anchor="end" class="tk">0</text>
<text transform="translate(422.50,96.10) scale(0.92,1)" text-anchor="end" class="tk">0.5</text>
<text transform="translate(422.50,59.80) scale(0.92,1)" text-anchor="end" class="tk">1</text>
<text transform="translate(422.50,23.50) scale(0.92,1)" text-anchor="end" class="tk">1.5</text>
<text transform="translate(425.50,139.80) scale(0.92,1)" text-anchor="middle" class="tk">0</text>
<text transform="translate(479.65,139.80) scale(0.92,1)" text-anchor="middle" class="tk">0.5</text>
<text transform="translate(533.80,139.80) scale(0.92,1)" text-anchor="middle" class="tk">1</text>
<text transform="translate(429.60,149.30) scale(0.972,1)" class="xl">Relative density of F1, (<tspan font-style="italic" class="rho">ρ</tspan><tspan class="sub" dx="0.3" dy="4.2">F1</tspan><tspan dx="1.3" dy="-4.2">)</tspan></text>
<text transform="translate(406.50,75.85) rotate(-90)" text-anchor="middle" class="yl">C<tspan class="ysup" dx="-0.6" dy="-4.7">*</tspan><tspan class="ysub" dx="-3.8" dy="7.9">ijkl</tspan></text>
<polyline points="425.50,129.40 426.41,129.39 427.32,129.36 428.23,129.32 429.14,129.28 430.05,129.22 430.96,129.17 431.87,129.10 432.78,129.03 433.69,128.95 434.60,128.87 435.51,128.78 436.42,128.69 437.33,128.59 438.24,128.49 439.15,128.38 440.06,128.27 440.97,128.16 441.88,128.04 442.79,127.92 443.70,127.79 444.61,127.66 445.52,127.52 446.43,127.38 447.34,127.24 448.25,127.10 449.16,126.95 450.07,126.80 450.98,126.64 451.89,126.48 452.80,126.32 453.71,126.15 454.62,125.98 455.53,125.81 456.44,125.63 457.35,125.46 458.26,125.27 459.17,125.09 460.08,124.90 460.99,124.71 461.90,124.52 462.81,124.32 463.72,124.12 464.63,123.92 465.54,123.71 466.45,123.50 467.36,123.29 468.27,123.08 469.18,122.86 470.09,122.64 471.00,122.42 471.91,122.19 472.82,121.97 473.73,121.74 474.64,121.50 475.55,121.27 476.46,121.03 477.37,120.79 478.28,120.55 479.19,120.30 480.11,120.06 481.02,119.80 481.93,119.55 482.84,119.30 483.75,119.04 484.66,118.78 485.57,118.52 486.48,118.25 487.39,117.98 488.30,117.71 489.21,117.44 490.12,117.17 491.03,116.89 491.94,116.61 492.85,116.33 493.76,116.05 494.67,115.76 495.58,115.47 496.49,115.18 497.40,114.89 498.31,114.59 499.22,114.30 500.13,114.00 501.04,113.69 501.95,113.39 502.86,113.08 503.77,112.78 504.68,112.47 505.59,112.15 506.50,111.84 507.41,111.52 508.32,111.20 509.23,110.88 510.14,110.56 511.05,110.23 511.96,109.91 512.87,109.58 513.78,109.25 514.69,108.91 515.60,108.58 516.51,108.24 517.42,107.90 518.33,107.56 519.24,107.21 520.15,106.87 521.06,106.52 521.97,106.17 522.88,105.82 523.79,105.47 524.70,105.11 525.61,104.75 526.52,104.39 527.43,104.03 528.34,103.67 529.25,103.30 530.16,102.94 531.07,102.57 531.98,102.20 532.89,101.82 533.80,101.45" fill="none" stroke="#b0d080" stroke-width="0.9"/>
<polyline points="425.50,129.40 426.41,129.40 427.32,129.40 428.23,129.39 429.14,129.38 430.05,129.37 430.96,129.36 431.87,129.34 432.78,129.32 433.69,129.30 434.60,129.27 435.51,129.24 436.42,129.20 437.33,129.16 438.24,129.11 439.15,129.07 440.06,129.01 440.97,128.95 441.88,128.89 442.79,128.82 443.70,128.75 444.61,128.67 445.52,128.58 446.43,128.49 447.34,128.40 448.25,128.30 449.16,128.19 450.07,128.08 450.98,127.97 451.89,127.84 452.80,127.72 453.71,127.58 454.62,127.44 455.53,127.30 456.44,127.15 457.35,126.99 458.26,126.83 459.17,126.66 460.08,126.48 460.99,126.30 461.90,126.11 462.81,125.91 463.72,125.71 464.63,125.50 465.54,125.29 466.45,125.07 467.36,124.84 468.27,124.61 469.18,124.37 470.09,124.12 471.00,123.86 471.91,123.60 472.82,123.33 473.73,123.06 474.64,122.78 475.55,122.49 476.46,122.19 477.37,121.89 478.28,121.58 479.19,121.26 480.11,120.93 481.02,120.60 481.93,120.26 482.84,119.91 483.75,119.56 484.66,119.20 485.57,118.83 486.48,118.45 487.39,118.07 488.30,117.68 489.21,117.28 490.12,116.87 491.03,116.45 491.94,116.03 492.85,115.60 493.76,115.16 494.67,114.71 495.58,114.26 496.49,113.80 497.40,113.33 498.31,112.85 499.22,112.36 500.13,111.87 501.04,111.37 501.95,110.86 502.86,110.34 503.77,109.81 504.68,109.28 505.59,108.74 506.50,108.18 507.41,107.62 508.32,107.06 509.23,106.48 510.14,105.90 511.05,105.30 511.96,104.70 512.87,104.09 513.78,103.47 514.69,102.85 515.60,102.21 516.51,101.57 517.42,100.91 518.33,100.25 519.24,99.58 520.15,98.90 521.06,98.21 521.97,97.52 522.88,96.81 523.79,96.10 524.70,95.38 525.61,94.64 526.52,93.90 527.43,93.15 528.34,92.40 529.25,91.63 530.16,90.85 531.07,90.07 531.98,89.27 532.89,88.47 533.80,87.66" fill="none" stroke="#b8304a" stroke-width="1.0" stroke-dasharray="3,2.6"/>
<polyline points="425.50,129.40 426.41,129.40 427.32,129.40 428.23,129.39 429.14,129.39 430.05,129.37 430.96,129.36 431.87,129.34 432.78,129.31 433.69,129.28 434.60,129.24 435.51,129.20 436.42,129.15 437.33,129.09 438.24,129.02 439.15,128.95 440.06,128.87 440.97,128.78 441.88,128.68 442.79,128.57 443.70,128.45 444.61,128.32 445.52,128.18 446.43,128.03 447.34,127.87 448.25,127.70 449.16,127.52 450.07,127.33 450.98,127.12 451.89,126.90 452.80,126.68 453.71,126.43 454.62,126.18 455.53,125.91 456.44,125.63 457.35,125.33 458.26,125.02 459.17,124.70 460.08,124.36 460.99,124.01 461.90,123.64 462.81,123.26 463.72,122.86 464.63,122.45 465.54,122.02 466.45,121.58 467.36,121.12 468.27,120.64 469.18,120.15 470.09,119.64 471.00,119.12 471.91,118.57 472.82,118.01 473.73,117.43 474.64,116.84 475.55,116.22 476.46,115.59 477.37,114.94 478.28,114.27 479.19,113.59 480.11,112.88 481.02,112.15 481.93,111.41 482.84,110.64 483.75,109.86 484.66,109.06 485.57,108.23 486.48,107.39 487.39,106.52 488.30,105.64 489.21,104.73 490.12,103.81 491.03,102.86 491.94,101.89 492.85,100.90 493.76,99.89 494.67,98.85 495.58,97.80 496.49,96.72 497.40,95.62 498.31,94.50 499.22,93.35 500.13,92.18 501.04,90.99 501.95,89.77 502.86,88.54 503.77,87.27 504.68,85.99 505.59,84.68 506.50,83.35 507.41,81.99 508.32,80.61 509.23,79.20 510.14,77.77 511.05,76.31 511.96,74.83 512.87,73.33 513.78,71.80 514.69,70.24 515.60,68.66 516.51,67.05 517.42,65.41 518.33,63.75 519.24,62.07 520.15,60.35 521.06,58.62 521.97,56.85 522.88,55.06 523.79,53.24 524.70,51.39 525.61,49.51 526.52,47.61 527.43,45.68 528.34,43.73 529.25,41.74 530.16,39.73 531.07,37.69 531.98,35.62 532.89,33.52 533.80,31.39" fill="none" stroke="#4dbdec" stroke-width="1.0"/>
<circle cx="430.92" cy="129.17" r="1.4" fill="none" stroke="#3e3e3e" stroke-width="0.8"/>
<circle cx="434.16" cy="128.91" r="1.4" fill="none" stroke="#3e3e3e" stroke-width="0.8"/>
<circle cx="437.41" cy="128.58" r="1.4" fill="none" stroke="#3e3e3e" stroke-width="0.8"/>
<circle cx="440.66" cy="128.20" r="1.4" fill="none" stroke="#3e3e3e" stroke-width="0.8"/>
<circle cx="443.91" cy="127.76" r="1.4" fill="none" stroke="#3e3e3e" stroke-width="0.8"/>
<circle cx="447.16" cy="127.27" r="1.4" fill="none" stroke="#3e3e3e" stroke-width="0.8"/>
<circle cx="453.87" cy="126.12" r="1.4" fill="none" stroke="#3e3e3e" stroke-width="0.8"/>
<circle cx="462.86" cy="124.31" r="1.4" fill="none" stroke="#3e3e3e" stroke-width="0.8"/>
<circle cx="467.74" cy="123.20" r="1.4" fill="none" stroke="#3e3e3e" stroke-width="0.8"/>
<circle cx="475.86" cy="121.19" r="1.4" fill="none" stroke="#3e3e3e" stroke-width="0.8"/>
<circle cx="483.44" cy="119.13" r="1.4" fill="none" stroke="#3e3e3e" stroke-width="0.8"/>
<circle cx="492.65" cy="116.39" r="1.4" fill="none" stroke="#3e3e3e" stroke-width="0.8"/>
<circle cx="501.31" cy="113.60" r="1.4" fill="none" stroke="#3e3e3e" stroke-width="0.8"/>
<circle cx="506.29" cy="111.91" r="1.4" fill="none" stroke="#3e3e3e" stroke-width="0.8"/>
<circle cx="513.44" cy="109.37" r="1.4" fill="none" stroke="#3e3e3e" stroke-width="0.8"/>
<circle cx="519.07" cy="107.28" r="1.4" fill="none" stroke="#3e3e3e" stroke-width="0.8"/>
<circle cx="522.65" cy="105.91" r="1.4" fill="none" stroke="#3e3e3e" stroke-width="0.8"/>
<circle cx="525.89" cy="104.64" r="1.4" fill="none" stroke="#3e3e3e" stroke-width="0.8"/>
<circle cx="529.47" cy="103.22" r="1.4" fill="none" stroke="#3e3e3e" stroke-width="0.8"/>
<circle cx="531.85" cy="102.25" r="1.4" fill="none" stroke="#3e3e3e" stroke-width="0.8"/>
<circle cx="533.80" cy="101.45" r="1.4" fill="none" stroke="#3e3e3e" stroke-width="0.8"/>
<path d="M429.72 130.36 L432.12 130.36 L430.92 128.16Z" fill="#5a1f2a"/>
<path d="M432.96 130.28 L435.36 130.28 L434.16 128.08Z" fill="#5a1f2a"/>
<path d="M436.21 130.16 L438.61 130.16 L437.41 127.96Z" fill="#5a1f2a"/>
<path d="M439.46 129.97 L441.86 129.97 L440.66 127.77Z" fill="#5a1f2a"/>
<path d="M442.71 129.73 L445.11 129.73 L443.91 127.53Z" fill="#5a1f2a"/>
<path d="M445.96 129.42 L448.36 129.42 L447.16 127.22Z" fill="#5a1f2a"/>
<path d="M452.67 128.56 L455.07 128.56 L453.87 126.36Z" fill="#5a1f2a"/>
<path d="M461.66 126.90 L464.06 126.90 L462.86 124.70Z" fill="#5a1f2a"/>
<path d="M466.54 125.75 L468.94 125.75 L467.74 123.55Z" fill="#5a1f2a"/>
<path d="M474.66 123.39 L477.06 123.39 L475.86 121.19Z" fill="#5a1f2a"/>
<path d="M482.24 120.68 L484.64 120.68 L483.44 118.48Z" fill="#5a1f2a"/>
<path d="M491.45 116.70 L493.85 116.70 L492.65 114.50Z" fill="#5a1f2a"/>
<path d="M500.11 112.22 L502.51 112.22 L501.31 110.02Z" fill="#5a1f2a"/>
<path d="M505.09 109.31 L507.49 109.31 L506.29 107.11Z" fill="#5a1f2a"/>
<path d="M512.24 104.70 L514.64 104.70 L513.44 102.50Z" fill="#5a1f2a"/>
<path d="M517.87 100.71 L520.27 100.71 L519.07 98.51Z" fill="#5a1f2a"/>
<path d="M521.45 98.00 L523.85 98.00 L522.65 95.80Z" fill="#5a1f2a"/>
<path d="M524.69 95.41 L527.09 95.41 L525.89 93.21Z" fill="#5a1f2a"/>
<path d="M528.27 92.44 L530.67 92.44 L529.47 90.24Z" fill="#5a1f2a"/>
<path d="M530.65 90.38 L533.05 90.38 L531.85 88.18Z" fill="#5a1f2a"/>
<path d="M532.60 88.66 L535.00 88.66 L533.80 86.46Z" fill="#5a1f2a"/>
<circle cx="430.92" cy="129.36" r="1.25" fill="#1a1a1a"/>
<circle cx="434.16" cy="129.26" r="1.25" fill="#1a1a1a"/>
<circle cx="437.41" cy="129.08" r="1.25" fill="#1a1a1a"/>
<circle cx="440.66" cy="128.81" r="1.25" fill="#1a1a1a"/>
<circle cx="443.91" cy="128.42" r="1.25" fill="#1a1a1a"/>
<circle cx="447.16" cy="127.91" r="1.25" fill="#1a1a1a"/>
<circle cx="453.87" cy="126.39" r="1.25" fill="#1a1a1a"/>
<circle cx="462.86" cy="123.24" r="1.25" fill="#1a1a1a"/>
<circle cx="467.74" cy="120.93" r="1.25" fill="#1a1a1a"/>
<circle cx="475.86" cy="116.01" r="1.25" fill="#1a1a1a"/>
<circle cx="483.44" cy="110.13" r="1.25" fill="#1a1a1a"/>
<circle cx="492.65" cy="101.12" r="1.25" fill="#1a1a1a"/>
<circle cx="501.31" cy="90.63" r="1.25" fill="#1a1a1a"/>
<circle cx="506.29" cy="83.65" r="1.25" fill="#1a1a1a"/>
<circle cx="513.44" cy="72.37" r="1.25" fill="#1a1a1a"/>
<circle cx="519.07" cy="62.38" r="1.25" fill="#1a1a1a"/>
<circle cx="522.65" cy="55.52" r="1.25" fill="#1a1a1a"/>
<circle cx="525.89" cy="48.92" r="1.25" fill="#1a1a1a"/>
<circle cx="529.47" cy="41.26" r="1.25" fill="#1a1a1a"/>
<circle cx="531.85" cy="35.91" r="1.25" fill="#1a1a1a"/>
<circle cx="533.80" cy="31.39" r="1.25" fill="#1a1a1a"/>
<rect x="427.80" y="23.40" width="77.70" height="42.00" fill="#fff" stroke="#bdbdbd" stroke-width="0.9"/>
<line x1="429.50" y1="30.60" x2="439.70" y2="30.60" stroke="#4dbdec" stroke-width="1.2"/>
<text transform="translate(441.10,32.90) scale(0.92,1)" class="lg">Fitted curve for C<tspan class="lsup" dy="-3.6">*</tspan><tspan class="lsub" dx="-1.7" dy="7.6">3333</tspan></text>
<line x1="429.50" y1="44.30" x2="439.70" y2="44.30" stroke="#b8304a" stroke-width="1.2" stroke-dasharray="4.3,2"/>
<text transform="translate(441.10,46.60) scale(0.92,1)" class="lg">Fitted curve for C<tspan class="lsup" dy="-3.6">*</tspan><tspan class="lsub" dx="-1.7" dy="7.6">1133</tspan></text>
<line x1="429.50" y1="57.80" x2="439.70" y2="57.80" stroke="#b0d080" stroke-width="1.1"/>
<text transform="translate(441.10,60.10) scale(0.92,1)" class="lg">Fitted curve for C<tspan class="lsup" dy="-3.6">*</tspan><tspan class="lsub" dx="-1.7" dy="7.6">3131</tspan></text>
<line x1="195.45" y1="277.00" x2="195.45" y2="168.10" stroke="#efefef" stroke-width="0.8"/>
<line x1="249.60" y1="277.00" x2="249.60" y2="168.10" stroke="#efefef" stroke-width="0.8"/>
<line x1="141.30" y1="240.70" x2="249.60" y2="240.70" stroke="#efefef" stroke-width="0.8"/>
<line x1="141.30" y1="204.40" x2="249.60" y2="204.40" stroke="#efefef" stroke-width="0.8"/>
<line x1="141.30" y1="168.10" x2="249.60" y2="168.10" stroke="#efefef" stroke-width="0.8"/>
<path d="M140.90 168.10 L140.90 277.40 L249.60 277.40" fill="none" stroke="#d0d0d0" stroke-width="1.6"/>
<line x1="141.30" y1="240.70" x2="142.50" y2="240.70" stroke="#d0d0d0" stroke-width="0.8"/>
<line x1="141.30" y1="204.40" x2="142.50" y2="204.40" stroke="#d0d0d0" stroke-width="0.8"/>
<line x1="141.30" y1="168.10" x2="142.50" y2="168.10" stroke="#d0d0d0" stroke-width="0.8"/>
<line x1="195.45" y1="277.00" x2="195.45" y2="275.80" stroke="#d0d0d0" stroke-width="0.8"/>
<line x1="249.60" y1="277.00" x2="249.60" y2="275.80" stroke="#d0d0d0" stroke-width="0.8"/>
<text transform="translate(138.30,280.00) scale(0.92,1)" text-anchor="end" class="tk">0</text>
<text transform="translate(138.30,243.70) scale(0.92,1)" text-anchor="end" class="tk">0.5</text>
<text transform="translate(138.30,207.40) scale(0.92,1)" text-anchor="end" class="tk">1</text>
<text transform="translate(138.30,171.10) scale(0.92,1)" text-anchor="end" class="tk">1.5</text>
<text transform="translate(141.30,287.20) scale(0.92,1)" text-anchor="middle" class="tk">0</text>
<text transform="translate(195.45,287.20) scale(0.92,1)" text-anchor="middle" class="tk">0.5</text>
<text transform="translate(249.60,287.20) scale(0.92,1)" text-anchor="middle" class="tk">1</text>
<text transform="translate(145.40,296.50) scale(0.972,1)" class="xl">Relative density of F2, (<tspan font-style="italic" class="rho">ρ</tspan><tspan class="sub" dx="0.3" dy="4.2">F2</tspan><tspan dx="1.3" dy="-4.2">)</tspan></text>
<text transform="translate(122.30,223.45) rotate(-90)" text-anchor="middle" class="yl">C<tspan class="ysup" dx="-0.6" dy="-4.7">*</tspan><tspan class="ysub" dx="-3.8" dy="7.9">ijkl</tspan></text>
<polyline points="141.30,277.00 142.21,277.00 143.12,276.99 144.03,276.98 144.94,276.96 145.85,276.94 146.76,276.91 147.67,276.88 148.58,276.85 149.49,276.81 150.40,276.77 151.31,276.72 152.22,276.67 153.13,276.61 154.04,276.55 154.95,276.49 155.86,276.42 156.77,276.35 157.68,276.27 158.59,276.19 159.50,276.10 160.41,276.01 161.32,275.92 162.23,275.82 163.14,275.72 164.05,275.61 164.96,275.50 165.87,275.39 166.78,275.27 167.69,275.15 168.60,275.02 169.51,274.89 170.42,274.76 171.33,274.62 172.24,274.48 173.15,274.33 174.06,274.18 174.97,274.02 175.88,273.86 176.79,273.70 177.70,273.54 178.61,273.36 179.52,273.19 180.43,273.01 181.34,272.83 182.25,272.64 183.16,272.45 184.07,272.25 184.98,272.06 185.89,271.85 186.80,271.65 187.71,271.44 188.62,271.22 189.53,271.00 190.44,270.78 191.35,270.55 192.26,270.32 193.17,270.09 194.08,269.85 194.99,269.61 195.91,269.36 196.82,269.11 197.73,268.86 198.64,268.60 199.55,268.34 200.46,268.07 201.37,267.80 202.28,267.53 203.19,267.25 204.10,266.97 205.01,266.68 205.92,266.39 206.83,266.10 207.74,265.80 208.65,265.50 209.56,265.20 210.47,264.89 211.38,264.57 212.29,264.26 213.20,263.94 214.11,263.61 215.02,263.28 215.93,262.95 216.84,262.62 217.75,262.28 218.66,261.93 219.57,261.58 220.48,261.23 221.39,260.88 222.30,260.52 223.21,260.16 224.12,259.79 225.03,259.42 225.94,259.04 226.85,258.67 227.76,258.28 228.67,257.90 229.58,257.51 230.49,257.11 231.40,256.72 232.31,256.31 233.22,255.91 234.13,255.50 235.04,255.09 235.95,254.67 236.86,254.25 237.77,253.82 238.68,253.40 239.59,252.96 240.50,252.53 241.41,252.09 242.32,251.65 243.23,251.20 244.14,250.75 245.05,250.29 245.96,249.83 246.87,249.37 247.78,248.90 248.69,248.43 249.60,247.96" fill="none" stroke="#b0d080" stroke-width="0.95"/>
<polyline points="141.30,275.91 142.21,275.91 143.12,275.91 144.03,275.91 144.94,275.91 145.85,275.90 146.76,275.90 147.67,275.89 148.58,275.88 149.49,275.87 150.40,275.86 151.31,275.85 152.22,275.83 153.13,275.81 154.04,275.79 154.95,275.76 155.86,275.73 156.77,275.70 157.68,275.66 158.59,275.62 159.50,275.58 160.41,275.54 161.32,275.48 162.23,275.43 163.14,275.37 164.05,275.31 164.96,275.24 165.87,275.17 166.78,275.09 167.69,275.01 168.60,274.93 169.51,274.83 170.42,274.74 171.33,274.64 172.24,274.53 173.15,274.42 174.06,274.30 174.97,274.18 175.88,274.05 176.79,273.91 177.70,273.77 178.61,273.62 179.52,273.47 180.43,273.31 181.34,273.14 182.25,272.97 183.16,272.79 184.07,272.60 184.98,272.41 185.89,272.21 186.80,272.00 187.71,271.78 188.62,271.56 189.53,271.33 190.44,271.10 191.35,270.85 192.26,270.60 193.17,270.34 194.08,270.07 194.99,269.80 195.91,269.51 196.82,269.22 197.73,268.92 198.64,268.61 199.55,268.29 200.46,267.97 201.37,267.63 202.28,267.29 203.19,266.94 204.10,266.58 205.01,266.21 205.92,265.83 206.83,265.44 207.74,265.04 208.65,264.64 209.56,264.22 210.47,263.80 211.38,263.36 212.29,262.92 213.20,262.46 214.11,262.00 215.02,261.52 215.93,261.04 216.84,260.54 217.75,260.04 218.66,259.52 219.57,259.00 220.48,258.46 221.39,257.91 222.30,257.35 223.21,256.79 224.12,256.21 225.03,255.62 225.94,255.02 226.85,254.40 227.76,253.78 228.67,253.15 229.58,252.50 230.49,251.84 231.40,251.17 232.31,250.49 233.22,249.80 234.13,249.10 235.04,248.38 235.95,247.65 236.86,246.91 237.77,246.16 238.68,245.40 239.59,244.62 240.50,243.83 241.41,243.03 242.32,242.22 243.23,241.39 244.14,240.56 245.05,239.70 245.96,238.84 246.87,237.96 247.78,237.07 248.69,236.17 249.60,235.25" fill="none" stroke="#c84a62" stroke-width="1.5" stroke-dasharray="3,2.6"/>
<polyline points="141.30,275.55 142.21,275.54 143.12,275.53 144.03,275.51 144.94,275.48 145.85,275.44 146.76,275.39 147.67,275.33 148.58,275.26 149.49,275.17 150.40,275.08 151.31,274.97 152.22,274.85 153.13,274.72 154.04,274.58 154.95,274.42 155.86,274.26 156.77,274.08 157.68,273.88 158.59,273.68 159.50,273.46 160.41,273.23 161.32,272.99 162.23,272.73 163.14,272.46 164.05,272.18 164.96,271.88 165.87,271.57 166.78,271.25 167.69,270.91 168.60,270.56 169.51,270.19 170.42,269.81 171.33,269.42 172.24,269.02 173.15,268.60 174.06,268.16 174.97,267.71 175.88,267.25 176.79,266.77 177.70,266.28 178.61,265.78 179.52,265.26 180.43,264.73 181.34,264.18 182.25,263.61 183.16,263.04 184.07,262.44 184.98,261.84 185.89,261.22 186.80,260.58 187.71,259.93 188.62,259.26 189.53,258.58 190.44,257.89 191.35,257.18 192.26,256.45 193.17,255.71 194.08,254.95 194.99,254.18 195.91,253.40 196.82,252.60 197.73,251.78 198.64,250.95 199.55,250.10 200.46,249.24 201.37,248.36 202.28,247.47 203.19,246.56 204.10,245.63 205.01,244.69 205.92,243.74 206.83,242.77 207.74,241.78 208.65,240.78 209.56,239.76 210.47,238.73 211.38,237.68 212.29,236.61 213.20,235.53 214.11,234.43 215.02,233.32 215.93,232.19 216.84,231.05 217.75,229.89 218.66,228.71 219.57,227.52 220.48,226.31 221.39,225.08 222.30,223.84 223.21,222.58 224.12,221.31 225.03,220.02 225.94,218.71 226.85,217.39 227.76,216.05 228.67,214.70 229.58,213.33 230.49,211.94 231.40,210.54 232.31,209.12 233.22,207.68 234.13,206.23 235.04,204.76 235.95,203.27 236.86,201.77 237.77,200.25 238.68,198.72 239.59,197.16 240.50,195.60 241.41,194.01 242.32,192.41 243.23,190.79 244.14,189.15 245.05,187.50 245.96,185.83 246.87,184.15 247.78,182.45 248.69,180.73 249.60,178.99" fill="none" stroke="#4dbdec" stroke-width="1.15"/>
<circle cx="179.75" cy="273.15" r="1.4" fill="none" stroke="#3e3e3e" stroke-width="0.8"/>
<circle cx="182.94" cy="272.50" r="1.4" fill="none" stroke="#3e3e3e" stroke-width="0.8"/>
<circle cx="186.14" cy="271.80" r="1.4" fill="none" stroke="#3e3e3e" stroke-width="0.8"/>
<circle cx="189.33" cy="271.05" r="1.4" fill="none" stroke="#3e3e3e" stroke-width="0.8"/>
<circle cx="192.53" cy="270.26" r="1.4" fill="none" stroke="#3e3e3e" stroke-width="0.8"/>
<circle cx="195.72" cy="269.41" r="1.4" fill="none" stroke="#3e3e3e" stroke-width="0.8"/>
<circle cx="198.92" cy="268.52" r="1.4" fill="none" stroke="#3e3e3e" stroke-width="0.8"/>
<circle cx="202.11" cy="267.58" r="1.4" fill="none" stroke="#3e3e3e" stroke-width="0.8"/>
<circle cx="205.31" cy="266.59" r="1.4" fill="none" stroke="#3e3e3e" stroke-width="0.8"/>
<circle cx="208.50" cy="265.55" r="1.4" fill="none" stroke="#3e3e3e" stroke-width="0.8"/>
<circle cx="211.69" cy="264.46" r="1.4" fill="none" stroke="#3e3e3e" stroke-width="0.8"/>
<circle cx="214.89" cy="263.33" r="1.4" fill="none" stroke="#3e3e3e" stroke-width="0.8"/>
<circle cx="218.08" cy="262.15" r="1.4" fill="none" stroke="#3e3e3e" stroke-width="0.8"/>
<circle cx="221.28" cy="260.92" r="1.4" fill="none" stroke="#3e3e3e" stroke-width="0.8"/>
<circle cx="224.47" cy="259.64" r="1.4" fill="none" stroke="#3e3e3e" stroke-width="0.8"/>
<circle cx="227.67" cy="258.32" r="1.4" fill="none" stroke="#3e3e3e" stroke-width="0.8"/>
<circle cx="230.86" cy="256.95" r="1.4" fill="none" stroke="#3e3e3e" stroke-width="0.8"/>
<circle cx="234.06" cy="255.53" r="1.4" fill="none" stroke="#3e3e3e" stroke-width="0.8"/>
<circle cx="237.25" cy="254.07" r="1.4" fill="none" stroke="#3e3e3e" stroke-width="0.8"/>
<circle cx="240.45" cy="252.55" r="1.4" fill="none" stroke="#3e3e3e" stroke-width="0.8"/>
<circle cx="243.64" cy="250.99" r="1.4" fill="none" stroke="#3e3e3e" stroke-width="0.8"/>
<circle cx="246.84" cy="249.39" r="1.4" fill="none" stroke="#3e3e3e" stroke-width="0.8"/>
<path d="M178.55 274.43 L180.95 274.43 L179.75 272.23Z" fill="#5a1f2a"/>
<path d="M181.74 273.83 L184.14 273.83 L182.94 271.63Z" fill="#5a1f2a"/>
<path d="M184.94 273.15 L187.34 273.15 L186.14 270.95Z" fill="#5a1f2a"/>
<path d="M188.13 272.38 L190.53 272.38 L189.33 270.18Z" fill="#5a1f2a"/>
<path d="M191.33 271.53 L193.73 271.53 L192.53 269.33Z" fill="#5a1f2a"/>
<path d="M194.52 270.57 L196.92 270.57 L195.72 268.37Z" fill="#5a1f2a"/>
<path d="M197.72 269.51 L200.12 269.51 L198.92 267.31Z" fill="#5a1f2a"/>
<path d="M200.91 268.35 L203.31 268.35 L202.11 266.15Z" fill="#5a1f2a"/>
<path d="M204.11 267.08 L206.51 267.08 L205.31 264.88Z" fill="#5a1f2a"/>
<path d="M207.30 265.70 L209.70 265.70 L208.50 263.50Z" fill="#5a1f2a"/>
<path d="M210.50 264.21 L212.89 264.21 L211.69 262.01Z" fill="#5a1f2a"/>
<path d="M213.69 262.59 L216.09 262.59 L214.89 260.39Z" fill="#5a1f2a"/>
<path d="M216.88 260.85 L219.28 260.85 L218.08 258.65Z" fill="#5a1f2a"/>
<path d="M220.08 258.98 L222.48 258.98 L221.28 256.78Z" fill="#5a1f2a"/>
<path d="M223.27 256.98 L225.67 256.98 L224.47 254.78Z" fill="#5a1f2a"/>
<path d="M226.47 254.84 L228.87 254.84 L227.67 252.64Z" fill="#5a1f2a"/>
<path d="M229.66 252.57 L232.06 252.57 L230.86 250.37Z" fill="#5a1f2a"/>
<path d="M232.86 250.15 L235.26 250.15 L234.06 247.95Z" fill="#5a1f2a"/>
<path d="M236.05 247.59 L238.45 247.59 L237.25 245.39Z" fill="#5a1f2a"/>
<path d="M239.25 244.88 L241.65 244.88 L240.45 242.68Z" fill="#5a1f2a"/>
<path d="M242.44 242.01 L244.84 242.01 L243.64 239.81Z" fill="#5a1f2a"/>
<path d="M245.64 238.99 L248.04 238.99 L246.84 236.79Z" fill="#5a1f2a"/>
<circle cx="182.89" cy="263.21" r="1.25" fill="#1a1a1a"/>
<circle cx="188.95" cy="259.02" r="1.25" fill="#1a1a1a"/>
<circle cx="194.15" cy="254.90" r="1.25" fill="#1a1a1a"/>
<circle cx="199.78" cy="249.88" r="1.25" fill="#1a1a1a"/>
<circle cx="205.41" cy="244.27" r="1.25" fill="#1a1a1a"/>
<circle cx="209.85" cy="239.42" r="1.25" fill="#1a1a1a"/>
<circle cx="215.59" cy="232.61" r="1.25" fill="#1a1a1a"/>
<circle cx="221.88" cy="224.42" r="1.25" fill="#1a1a1a"/>
<circle cx="227.29" cy="216.74" r="1.25" fill="#1a1a1a"/>
<circle cx="231.30" cy="210.69" r="1.25" fill="#1a1a1a"/>
<circle cx="235.85" cy="203.44" r="1.25" fill="#1a1a1a"/>
<circle cx="240.39" cy="195.78" r="1.25" fill="#1a1a1a"/>
<circle cx="243.75" cy="189.85" r="1.25" fill="#1a1a1a"/>
<circle cx="246.03" cy="185.71" r="1.25" fill="#1a1a1a"/>
<circle cx="247.76" cy="182.48" r="1.25" fill="#1a1a1a"/>
<circle cx="249.38" cy="179.40" r="1.25" fill="#1a1a1a"/>
<rect x="143.60" y="171.00" width="77.70" height="42.00" fill="#fff" stroke="#bdbdbd" stroke-width="0.9"/>
<line x1="145.30" y1="178.20" x2="155.50" y2="178.20" stroke="#4dbdec" stroke-width="1.3499999999999999"/>
<text transform="translate(156.90,180.50) scale(0.92,1)" class="lg">Fitted curve for C<tspan class="lsup" dy="-3.6">*</tspan><tspan class="lsub" dx="-1.7" dy="7.6">1111</tspan></text>
<line x1="145.30" y1="191.90" x2="155.50" y2="191.90" stroke="#c84a62" stroke-width="1.7" stroke-dasharray="4.3,2"/>
<text transform="translate(156.90,194.20) scale(0.92,1)" class="lg">Fitted curve for C<tspan class="lsup" dy="-3.6">*</tspan><tspan class="lsub" dx="-1.7" dy="7.6">1122</tspan></text>
<line x1="145.30" y1="205.40" x2="155.50" y2="205.40" stroke="#b0d080" stroke-width="1.15"/>
<text transform="translate(156.90,207.70) scale(0.92,1)" class="lg">Fitted curve for C<tspan class="lsup" dy="-3.6">*</tspan><tspan class="lsub" dx="-1.7" dy="7.6">1212</tspan></text>
<line x1="337.45" y1="277.00" x2="337.45" y2="168.10" stroke="#efefef" stroke-width="0.8"/>
<line x1="391.60" y1="277.00" x2="391.60" y2="168.10" stroke="#efefef" stroke-width="0.8"/>
<line x1="283.30" y1="240.70" x2="391.60" y2="240.70" stroke="#efefef" stroke-width="0.8"/>
<line x1="283.30" y1="204.40" x2="391.60" y2="204.40" stroke="#efefef" stroke-width="0.8"/>
<line x1="283.30" y1="168.10" x2="391.60" y2="168.10" stroke="#efefef" stroke-width="0.8"/>
<path d="M282.90 168.10 L282.90 277.40 L391.60 277.40" fill="none" stroke="#d0d0d0" stroke-width="1.6"/>
<line x1="283.30" y1="240.70" x2="284.50" y2="240.70" stroke="#d0d0d0" stroke-width="0.8"/>
<line x1="283.30" y1="204.40" x2="284.50" y2="204.40" stroke="#d0d0d0" stroke-width="0.8"/>
<line x1="283.30" y1="168.10" x2="284.50" y2="168.10" stroke="#d0d0d0" stroke-width="0.8"/>
<line x1="337.45" y1="277.00" x2="337.45" y2="275.80" stroke="#d0d0d0" stroke-width="0.8"/>
<line x1="391.60" y1="277.00" x2="391.60" y2="275.80" stroke="#d0d0d0" stroke-width="0.8"/>
<text transform="translate(280.30,280.00) scale(0.92,1)" text-anchor="end" class="tk">0</text>
<text transform="translate(280.30,243.70) scale(0.92,1)" text-anchor="end" class="tk">0.5</text>
<text transform="translate(280.30,207.40) scale(0.92,1)" text-anchor="end" class="tk">1</text>
<text transform="translate(280.30,171.10) scale(0.92,1)" text-anchor="end" class="tk">1.5</text>
<text transform="translate(283.30,287.20) scale(0.92,1)" text-anchor="middle" class="tk">0</text>
<text transform="translate(337.45,287.20) scale(0.92,1)" text-anchor="middle" class="tk">0.5</text>
<text transform="translate(391.60,287.20) scale(0.92,1)" text-anchor="middle" class="tk">1</text>
<text transform="translate(287.40,296.50) scale(0.972,1)" class="xl">Relative density of F2, (<tspan font-style="italic" class="rho">ρ</tspan><tspan class="sub" dx="0.3" dy="4.2">F2</tspan><tspan dx="1.3" dy="-4.2">)</tspan></text>
<text transform="translate(264.30,223.45) rotate(-90)" text-anchor="middle" class="yl">C<tspan class="ysup" dx="-0.6" dy="-4.7">*</tspan><tspan class="ysub" dx="-3.8" dy="7.9">ijkl</tspan></text>
<polyline points="283.30,277.00 284.21,277.00 285.12,276.99 286.03,276.98 286.94,276.97 287.85,276.95 288.76,276.93 289.67,276.90 290.58,276.87 291.49,276.84 292.40,276.80 293.31,276.75 294.22,276.71 295.13,276.66 296.04,276.60 296.95,276.54 297.86,276.48 298.77,276.41 299.68,276.34 300.59,276.27 301.50,276.19 302.41,276.10 303.32,276.01 304.23,275.92 305.14,275.83 306.05,275.73 306.96,275.62 307.87,275.52 308.78,275.40 309.69,275.29 310.60,275.17 311.51,275.04 312.42,274.92 313.33,274.78 314.24,274.65 315.15,274.51 316.06,274.36 316.97,274.21 317.88,274.06 318.79,273.90 319.70,273.74 320.61,273.58 321.52,273.41 322.43,273.24 323.34,273.06 324.25,272.88 325.16,272.69 326.07,272.50 326.98,272.31 327.89,272.11 328.80,271.91 329.71,271.71 330.62,271.50 331.53,271.28 332.44,271.06 333.35,270.84 334.26,270.62 335.17,270.39 336.08,270.15 336.99,269.92 337.91,269.67 338.82,269.43 339.73,269.18 340.64,268.92 341.55,268.66 342.46,268.40 343.37,268.13 344.28,267.86 345.19,267.59 346.10,267.31 347.01,267.03 347.92,266.74 348.83,266.45 349.74,266.15 350.65,265.85 351.56,265.55 352.47,265.24 353.38,264.93 354.29,264.62 355.20,264.30 356.11,263.97 357.02,263.65 357.93,263.31 358.84,262.98 359.75,262.64 360.66,262.29 361.57,261.95 362.48,261.59 363.39,261.24 364.30,260.88 365.21,260.51 366.12,260.15 367.03,259.77 367.94,259.40 368.85,259.02 369.76,258.63 370.67,258.24 371.58,257.85 372.49,257.45 373.40,257.05 374.31,256.65 375.22,256.24 376.13,255.82 377.04,255.41 377.95,254.99 378.86,254.56 379.77,254.13 380.68,253.70 381.59,253.26 382.50,252.82 383.41,252.37 384.32,251.92 385.23,251.47 386.14,251.01 387.05,250.55 387.96,250.08 388.87,249.61 389.78,249.14 390.69,248.66 391.60,248.18" fill="none" stroke="#b0d080" stroke-width="0.95"/>
<polyline points="283.30,273.88 284.21,273.88 285.12,273.88 286.03,273.88 286.94,273.88 287.85,273.88 288.76,273.88 289.67,273.88 290.58,273.88 291.49,273.87 292.40,273.87 293.31,273.87 294.22,273.87 295.13,273.86 296.04,273.86 296.95,273.85 297.86,273.84 298.77,273.84 299.68,273.83 300.59,273.82 301.50,273.80 302.41,273.79 303.32,273.77 304.23,273.76 305.14,273.74 306.05,273.71 306.96,273.69 307.87,273.66 308.78,273.64 309.69,273.60 310.60,273.57 311.51,273.53 312.42,273.49 313.33,273.45 314.24,273.40 315.15,273.35 316.06,273.29 316.97,273.23 317.88,273.17 318.79,273.10 319.70,273.03 320.61,272.95 321.52,272.87 322.43,272.79 323.34,272.70 324.25,272.60 325.16,272.50 326.07,272.39 326.98,272.27 327.89,272.15 328.80,272.03 329.71,271.90 330.62,271.76 331.53,271.61 332.44,271.46 333.35,271.30 334.26,271.13 335.17,270.95 336.08,270.77 336.99,270.58 337.91,270.38 338.82,270.17 339.73,269.95 340.64,269.72 341.55,269.49 342.46,269.24 343.37,268.99 344.28,268.73 345.19,268.45 346.10,268.17 347.01,267.87 347.92,267.57 348.83,267.25 349.74,266.92 350.65,266.58 351.56,266.23 352.47,265.87 353.38,265.49 354.29,265.11 355.20,264.71 356.11,264.29 357.02,263.87 357.93,263.43 358.84,262.97 359.75,262.51 360.66,262.03 361.57,261.53 362.48,261.02 363.39,260.50 364.30,259.96 365.21,259.40 366.12,258.83 367.03,258.24 367.94,257.64 368.85,257.02 369.76,256.39 370.67,255.73 371.58,255.06 372.49,254.38 373.40,253.67 374.31,252.95 375.22,252.21 376.13,251.44 377.04,250.67 377.95,249.87 378.86,249.05 379.77,248.21 380.68,247.35 381.59,246.48 382.50,245.58 383.41,244.66 384.32,243.72 385.23,242.76 386.14,241.77 387.05,240.77 387.96,239.74 388.87,238.69 389.78,237.62 390.69,236.52 391.60,235.40" fill="none" stroke="#c84a62" stroke-width="1.5" stroke-dasharray="3,2.6"/>
<polyline points="283.30,277.00 284.21,277.00 285.12,277.00 286.03,277.00 286.94,276.99 287.85,276.98 288.76,276.97 289.67,276.96 290.58,276.94 291.49,276.92 292.40,276.89 293.31,276.86 294.22,276.82 295.13,276.78 296.04,276.73 296.95,276.67 297.86,276.61 298.77,276.54 299.68,276.46 300.59,276.37 301.50,276.28 302.41,276.17 303.32,276.06 304.23,275.94 305.14,275.81 306.05,275.66 306.96,275.51 307.87,275.35 308.78,275.18 309.69,274.99 310.60,274.80 311.51,274.59 312.42,274.37 313.33,274.13 314.24,273.89 315.15,273.63 316.06,273.36 316.97,273.08 317.88,272.78 318.79,272.46 319.70,272.14 320.61,271.80 321.52,271.44 322.43,271.07 323.34,270.68 324.25,270.28 325.16,269.86 326.07,269.42 326.98,268.97 327.89,268.50 328.80,268.02 329.71,267.51 330.62,266.99 331.53,266.46 332.44,265.90 333.35,265.33 334.26,264.73 335.17,264.12 336.08,263.49 336.99,262.84 337.91,262.17 338.82,261.48 339.73,260.77 340.64,260.04 341.55,259.29 342.46,258.52 343.37,257.72 344.28,256.91 345.19,256.08 346.10,255.22 347.01,254.34 347.92,253.44 348.83,252.51 349.74,251.57 350.65,250.60 351.56,249.60 352.47,248.59 353.38,247.55 354.29,246.48 355.20,245.40 356.11,244.28 357.02,243.15 357.93,241.99 358.84,240.80 359.75,239.59 360.66,238.35 361.57,237.09 362.48,235.80 363.39,234.48 364.30,233.14 365.21,231.77 366.12,230.37 367.03,228.95 367.94,227.50 368.85,226.02 369.76,224.52 370.67,222.99 371.58,221.42 372.49,219.84 373.40,218.22 374.31,216.57 375.22,214.89 376.13,213.19 377.04,211.45 377.95,209.69 378.86,207.89 379.77,206.07 380.68,204.21 381.59,202.33 382.50,200.41 383.41,198.46 384.32,196.48 385.23,194.47 386.14,192.43 387.05,190.35 387.96,188.25 388.87,186.11 389.78,183.94 390.69,181.73 391.60,179.50" fill="none" stroke="#4dbdec" stroke-width="1.15"/>
<circle cx="321.75" cy="273.37" r="1.4" fill="none" stroke="#3e3e3e" stroke-width="0.8"/>
<circle cx="324.94" cy="272.74" r="1.4" fill="none" stroke="#3e3e3e" stroke-width="0.8"/>
<circle cx="328.14" cy="272.06" r="1.4" fill="none" stroke="#3e3e3e" stroke-width="0.8"/>
<circle cx="331.33" cy="271.33" r="1.4" fill="none" stroke="#3e3e3e" stroke-width="0.8"/>
<circle cx="334.53" cy="270.55" r="1.4" fill="none" stroke="#3e3e3e" stroke-width="0.8"/>
<circle cx="337.72" cy="269.72" r="1.4" fill="none" stroke="#3e3e3e" stroke-width="0.8"/>
<circle cx="340.92" cy="268.84" r="1.4" fill="none" stroke="#3e3e3e" stroke-width="0.8"/>
<circle cx="344.11" cy="267.91" r="1.4" fill="none" stroke="#3e3e3e" stroke-width="0.8"/>
<circle cx="347.31" cy="266.93" r="1.4" fill="none" stroke="#3e3e3e" stroke-width="0.8"/>
<circle cx="350.50" cy="265.90" r="1.4" fill="none" stroke="#3e3e3e" stroke-width="0.8"/>
<circle cx="353.69" cy="264.82" r="1.4" fill="none" stroke="#3e3e3e" stroke-width="0.8"/>
<circle cx="356.89" cy="263.69" r="1.4" fill="none" stroke="#3e3e3e" stroke-width="0.8"/>
<circle cx="360.08" cy="262.51" r="1.4" fill="none" stroke="#3e3e3e" stroke-width="0.8"/>
<circle cx="363.28" cy="261.28" r="1.4" fill="none" stroke="#3e3e3e" stroke-width="0.8"/>
<circle cx="366.47" cy="260.00" r="1.4" fill="none" stroke="#3e3e3e" stroke-width="0.8"/>
<circle cx="369.67" cy="258.67" r="1.4" fill="none" stroke="#3e3e3e" stroke-width="0.8"/>
<circle cx="372.86" cy="257.29" r="1.4" fill="none" stroke="#3e3e3e" stroke-width="0.8"/>
<circle cx="376.06" cy="255.86" r="1.4" fill="none" stroke="#3e3e3e" stroke-width="0.8"/>
<circle cx="379.25" cy="254.37" r="1.4" fill="none" stroke="#3e3e3e" stroke-width="0.8"/>
<circle cx="382.45" cy="252.84" r="1.4" fill="none" stroke="#3e3e3e" stroke-width="0.8"/>
<circle cx="385.64" cy="251.26" r="1.4" fill="none" stroke="#3e3e3e" stroke-width="0.8"/>
<circle cx="388.84" cy="249.63" r="1.4" fill="none" stroke="#3e3e3e" stroke-width="0.8"/>
<path d="M320.55 273.85 L322.95 273.85 L321.75 271.65Z" fill="#5a1f2a"/>
<path d="M323.74 273.52 L326.14 273.52 L324.94 271.32Z" fill="#5a1f2a"/>
<path d="M326.94 273.12 L329.34 273.12 L328.14 270.92Z" fill="#5a1f2a"/>
<path d="M330.13 272.64 L332.53 272.64 L331.33 270.44Z" fill="#5a1f2a"/>
<path d="M333.33 272.08 L335.73 272.08 L334.53 269.88Z" fill="#5a1f2a"/>
<path d="M336.52 271.42 L338.92 271.42 L337.72 269.22Z" fill="#5a1f2a"/>
<path d="M339.72 270.65 L342.12 270.65 L340.92 268.45Z" fill="#5a1f2a"/>
<path d="M342.91 269.77 L345.31 269.77 L344.11 267.57Z" fill="#5a1f2a"/>
<path d="M346.11 268.77 L348.51 268.77 L347.31 266.57Z" fill="#5a1f2a"/>
<path d="M349.30 267.64 L351.70 267.64 L350.50 265.44Z" fill="#5a1f2a"/>
<path d="M352.50 266.36 L354.89 266.36 L353.69 264.16Z" fill="#5a1f2a"/>
<path d="M355.69 264.93 L358.09 264.93 L356.89 262.73Z" fill="#5a1f2a"/>
<path d="M358.88 263.33 L361.28 263.33 L360.08 261.13Z" fill="#5a1f2a"/>
<path d="M362.08 261.56 L364.48 261.56 L363.28 259.36Z" fill="#5a1f2a"/>
<path d="M365.27 259.60 L367.67 259.60 L366.47 257.40Z" fill="#5a1f2a"/>
<path d="M368.47 257.45 L370.87 257.45 L369.67 255.25Z" fill="#5a1f2a"/>
<path d="M371.66 255.09 L374.06 255.09 L372.86 252.89Z" fill="#5a1f2a"/>
<path d="M374.86 252.50 L377.26 252.50 L376.06 250.30Z" fill="#5a1f2a"/>
<path d="M378.05 249.69 L380.45 249.69 L379.25 247.49Z" fill="#5a1f2a"/>
<path d="M381.25 246.63 L383.65 246.63 L382.45 244.43Z" fill="#5a1f2a"/>
<path d="M384.44 243.31 L386.84 243.31 L385.64 241.11Z" fill="#5a1f2a"/>
<path d="M387.64 239.73 L390.04 239.73 L388.84 237.53Z" fill="#5a1f2a"/>
<circle cx="324.89" cy="269.99" r="1.25" fill="#1a1a1a"/>
<circle cx="330.95" cy="266.80" r="1.25" fill="#1a1a1a"/>
<circle cx="336.15" cy="263.44" r="1.25" fill="#1a1a1a"/>
<circle cx="341.78" cy="259.09" r="1.25" fill="#1a1a1a"/>
<circle cx="347.41" cy="253.94" r="1.25" fill="#1a1a1a"/>
<circle cx="351.85" cy="249.27" r="1.25" fill="#1a1a1a"/>
<circle cx="357.59" cy="242.41" r="1.25" fill="#1a1a1a"/>
<circle cx="363.88" cy="233.76" r="1.25" fill="#1a1a1a"/>
<circle cx="369.29" cy="225.30" r="1.25" fill="#1a1a1a"/>
<circle cx="373.30" cy="218.40" r="1.25" fill="#1a1a1a"/>
<circle cx="377.85" cy="209.89" r="1.25" fill="#1a1a1a"/>
<circle cx="382.39" cy="200.63" r="1.25" fill="#1a1a1a"/>
<circle cx="385.75" cy="193.30" r="1.25" fill="#1a1a1a"/>
<circle cx="388.03" cy="188.09" r="1.25" fill="#1a1a1a"/>
<circle cx="389.76" cy="183.99" r="1.25" fill="#1a1a1a"/>
<circle cx="391.38" cy="180.03" r="1.25" fill="#1a1a1a"/>
<rect x="285.60" y="171.00" width="77.70" height="42.00" fill="#fff" stroke="#bdbdbd" stroke-width="0.9"/>
<line x1="287.30" y1="178.20" x2="297.50" y2="178.20" stroke="#4dbdec" stroke-width="1.3499999999999999"/>
<text transform="translate(298.90,180.50) scale(0.92,1)" class="lg">Fitted curve for C<tspan class="lsup" dy="-3.6">*</tspan><tspan class="lsub" dx="-1.7" dy="7.6">2222</tspan></text>
<line x1="287.30" y1="191.90" x2="297.50" y2="191.90" stroke="#c84a62" stroke-width="1.7" stroke-dasharray="4.3,2"/>
<text transform="translate(298.90,194.20) scale(0.92,1)" class="lg">Fitted curve for C<tspan class="lsup" dy="-3.6">*</tspan><tspan class="lsub" dx="-1.7" dy="7.6">2233</tspan></text>
<line x1="287.30" y1="205.40" x2="297.50" y2="205.40" stroke="#b0d080" stroke-width="1.15"/>
<text transform="translate(298.90,207.70) scale(0.92,1)" class="lg">Fitted curve for C<tspan class="lsup" dy="-3.6">*</tspan><tspan class="lsub" dx="-1.7" dy="7.6">2323</tspan></text>
<line x1="479.65" y1="277.00" x2="479.65" y2="168.10" stroke="#efefef" stroke-width="0.8"/>
<line x1="533.80" y1="277.00" x2="533.80" y2="168.10" stroke="#efefef" stroke-width="0.8"/>
<line x1="425.50" y1="240.70" x2="533.80" y2="240.70" stroke="#efefef" stroke-width="0.8"/>
<line x1="425.50" y1="204.40" x2="533.80" y2="204.40" stroke="#efefef" stroke-width="0.8"/>
<line x1="425.50" y1="168.10" x2="533.80" y2="168.10" stroke="#efefef" stroke-width="0.8"/>
<path d="M425.10 168.10 L425.10 277.40 L533.80 277.40" fill="none" stroke="#d0d0d0" stroke-width="1.6"/>
<line x1="425.50" y1="240.70" x2="426.70" y2="240.70" stroke="#d0d0d0" stroke-width="0.8"/>
<line x1="425.50" y1="204.40" x2="426.70" y2="204.40" stroke="#d0d0d0" stroke-width="0.8"/>
<line x1="425.50" y1="168.10" x2="426.70" y2="168.10" stroke="#d0d0d0" stroke-width="0.8"/>
<line x1="479.65" y1="277.00" x2="479.65" y2="275.80" stroke="#d0d0d0" stroke-width="0.8"/>
<line x1="533.80" y1="277.00" x2="533.80" y2="275.80" stroke="#d0d0d0" stroke-width="0.8"/>
<text transform="translate(422.50,280.00) scale(0.92,1)" text-anchor="end" class="tk">0</text>
<text transform="translate(422.50,243.70) scale(0.92,1)" text-anchor="end" class="tk">0.5</text>
<text transform="translate(422.50,207.40) scale(0.92,1)" text-anchor="end" class="tk">1</text>
<text transform="translate(422.50,171.10) scale(0.92,1)" text-anchor="end" class="tk">1.5</text>
<text transform="translate(425.50,287.20) scale(0.92,1)" text-anchor="middle" class="tk">0</text>
<text transform="translate(479.65,287.20) scale(0.92,1)" text-anchor="middle" class="tk">0.5</text>
<text transform="translate(533.80,287.20) scale(0.92,1)" text-anchor="middle" class="tk">1</text>
<text transform="translate(429.60,296.50) scale(0.972,1)" class="xl">Relative density of F2, (<tspan font-style="italic" class="rho">ρ</tspan><tspan class="sub" dx="0.3" dy="4.2">F2</tspan><tspan dx="1.3" dy="-4.2">)</tspan></text>
<text transform="translate(406.50,223.45) rotate(-90)" text-anchor="middle" class="yl">C<tspan class="ysup" dx="-0.6" dy="-4.7">*</tspan><tspan class="ysub" dx="-3.8" dy="7.9">ijkl</tspan></text>
<polyline points="425.50,277.00 426.41,276.99 427.32,276.97 428.23,276.95 429.14,276.91 430.05,276.87 430.96,276.83 431.87,276.78 432.78,276.72 433.69,276.66 434.60,276.59 435.51,276.52 436.42,276.44 437.33,276.36 438.24,276.27 439.15,276.18 440.06,276.09 440.97,275.99 441.88,275.89 442.79,275.78 443.70,275.67 444.61,275.55 445.52,275.44 446.43,275.31 447.34,275.19 448.25,275.06 449.16,274.92 450.07,274.78 450.98,274.64 451.89,274.50 452.80,274.35 453.71,274.20 454.62,274.04 455.53,273.88 456.44,273.72 457.35,273.55 458.26,273.39 459.17,273.21 460.08,273.04 460.99,272.86 461.90,272.68 462.81,272.49 463.72,272.30 464.63,272.11 465.54,271.92 466.45,271.72 467.36,271.52 468.27,271.31 469.18,271.11 470.09,270.90 471.00,270.68 471.91,270.47 472.82,270.25 473.73,270.02 474.64,269.80 475.55,269.57 476.46,269.34 477.37,269.11 478.28,268.87 479.19,268.63 480.11,268.39 481.02,268.14 481.93,267.89 482.84,267.64 483.75,267.39 484.66,267.13 485.57,266.87 486.48,266.61 487.39,266.34 488.30,266.08 489.21,265.81 490.12,265.53 491.03,265.26 491.94,264.98 492.85,264.70 493.76,264.41 494.67,264.13 495.58,263.84 496.49,263.55 497.40,263.25 498.31,262.95 499.22,262.65 500.13,262.35 501.04,262.05 501.95,261.74 502.86,261.43 503.77,261.12 504.68,260.80 505.59,260.48 506.50,260.16 507.41,259.84 508.32,259.52 509.23,259.19 510.14,258.86 511.05,258.52 511.96,258.19 512.87,257.85 513.78,257.51 514.69,257.17 515.60,256.82 516.51,256.47 517.42,256.12 518.33,255.77 519.24,255.42 520.15,255.06 521.06,254.70 521.97,254.34 522.88,253.97 523.79,253.61 524.70,253.24 525.61,252.86 526.52,252.49 527.43,252.11 528.34,251.73 529.25,251.35 530.16,250.97 531.07,250.58 531.98,250.20 532.89,249.80 533.80,249.41" fill="none" stroke="#b0d080" stroke-width="0.95"/>
<polyline points="425.50,275.91 426.41,275.91 427.32,275.91 428.23,275.91 429.14,275.91 430.05,275.90 430.96,275.90 431.87,275.89 432.78,275.88 433.69,275.87 434.60,275.86 435.51,275.85 436.42,275.83 437.33,275.81 438.24,275.79 439.15,275.76 440.06,275.73 440.97,275.70 441.88,275.66 442.79,275.62 443.70,275.58 444.61,275.54 445.52,275.48 446.43,275.43 447.34,275.37 448.25,275.31 449.16,275.24 450.07,275.17 450.98,275.09 451.89,275.01 452.80,274.93 453.71,274.83 454.62,274.74 455.53,274.64 456.44,274.53 457.35,274.42 458.26,274.30 459.17,274.18 460.08,274.05 460.99,273.91 461.90,273.77 462.81,273.62 463.72,273.47 464.63,273.31 465.54,273.14 466.45,272.97 467.36,272.79 468.27,272.60 469.18,272.41 470.09,272.21 471.00,272.00 471.91,271.78 472.82,271.56 473.73,271.33 474.64,271.10 475.55,270.85 476.46,270.60 477.37,270.34 478.28,270.07 479.19,269.80 480.11,269.51 481.02,269.22 481.93,268.92 482.84,268.61 483.75,268.29 484.66,267.97 485.57,267.63 486.48,267.29 487.39,266.94 488.30,266.58 489.21,266.21 490.12,265.83 491.03,265.44 491.94,265.04 492.85,264.64 493.76,264.22 494.67,263.80 495.58,263.36 496.49,262.92 497.40,262.46 498.31,262.00 499.22,261.52 500.13,261.04 501.04,260.54 501.95,260.04 502.86,259.52 503.77,259.00 504.68,258.46 505.59,257.91 506.50,257.35 507.41,256.79 508.32,256.21 509.23,255.62 510.14,255.02 511.05,254.40 511.96,253.78 512.87,253.15 513.78,252.50 514.69,251.84 515.60,251.17 516.51,250.49 517.42,249.80 518.33,249.10 519.24,248.38 520.15,247.65 521.06,246.91 521.97,246.16 522.88,245.40 523.79,244.62 524.70,243.83 525.61,243.03 526.52,242.22 527.43,241.39 528.34,240.56 529.25,239.70 530.16,238.84 531.07,237.96 531.98,237.07 532.89,236.17 533.80,235.25" fill="none" stroke="#c84a62" stroke-width="1.5" stroke-dasharray="3,2.6"/>
<polyline points="425.50,277.00 426.41,277.00 427.32,277.00 428.23,277.00 429.14,276.99 430.05,276.98 430.96,276.97 431.87,276.95 432.78,276.93 433.69,276.91 434.60,276.88 435.51,276.84 436.42,276.80 437.33,276.75 438.24,276.70 439.15,276.63 440.06,276.57 440.97,276.49 441.88,276.40 442.79,276.31 443.70,276.21 444.61,276.09 445.52,275.97 446.43,275.84 447.34,275.70 448.25,275.55 449.16,275.39 450.07,275.21 450.98,275.03 451.89,274.83 452.80,274.63 453.71,274.41 454.62,274.17 455.53,273.93 456.44,273.67 457.35,273.40 458.26,273.12 459.17,272.82 460.08,272.51 460.99,272.18 461.90,271.84 462.81,271.48 463.72,271.11 464.63,270.72 465.54,270.32 466.45,269.90 467.36,269.47 468.27,269.02 469.18,268.55 470.09,268.07 471.00,267.57 471.91,267.05 472.82,266.52 473.73,265.96 474.64,265.39 475.55,264.80 476.46,264.19 477.37,263.57 478.28,262.92 479.19,262.26 480.11,261.57 481.02,260.87 481.93,260.14 482.84,259.40 483.75,258.64 484.66,257.85 485.57,257.04 486.48,256.22 487.39,255.37 488.30,254.50 489.21,253.61 490.12,252.70 491.03,251.76 491.94,250.80 492.85,249.82 493.76,248.82 494.67,247.79 495.58,246.74 496.49,245.67 497.40,244.57 498.31,243.45 499.22,242.31 500.13,241.14 501.04,239.95 501.95,238.73 502.86,237.49 503.77,236.22 504.68,234.93 505.59,233.61 506.50,232.27 507.41,230.89 508.32,229.50 509.23,228.08 510.14,226.63 511.05,225.15 511.96,223.65 512.87,222.12 513.78,220.56 514.69,218.98 515.60,217.36 516.51,215.72 517.42,214.05 518.33,212.36 519.24,210.63 520.15,208.88 521.06,207.10 521.97,205.28 522.88,203.44 523.79,201.57 524.70,199.67 525.61,197.74 526.52,195.78 527.43,193.79 528.34,191.77 529.25,189.72 530.16,187.63 531.07,185.52 531.98,183.37 532.89,181.20 533.80,178.99" fill="none" stroke="#4dbdec" stroke-width="1.15"/>
<circle cx="463.95" cy="272.26" r="1.4" fill="none" stroke="#3e3e3e" stroke-width="0.8"/>
<circle cx="467.14" cy="271.57" r="1.4" fill="none" stroke="#3e3e3e" stroke-width="0.8"/>
<circle cx="470.34" cy="270.84" r="1.4" fill="none" stroke="#3e3e3e" stroke-width="0.8"/>
<circle cx="473.53" cy="270.07" r="1.4" fill="none" stroke="#3e3e3e" stroke-width="0.8"/>
<circle cx="476.73" cy="269.27" r="1.4" fill="none" stroke="#3e3e3e" stroke-width="0.8"/>
<circle cx="479.92" cy="268.44" r="1.4" fill="none" stroke="#3e3e3e" stroke-width="0.8"/>
<circle cx="483.12" cy="267.56" r="1.4" fill="none" stroke="#3e3e3e" stroke-width="0.8"/>
<circle cx="486.31" cy="266.66" r="1.4" fill="none" stroke="#3e3e3e" stroke-width="0.8"/>
<circle cx="489.51" cy="265.72" r="1.4" fill="none" stroke="#3e3e3e" stroke-width="0.8"/>
<circle cx="492.70" cy="264.74" r="1.4" fill="none" stroke="#3e3e3e" stroke-width="0.8"/>
<circle cx="495.89" cy="263.74" r="1.4" fill="none" stroke="#3e3e3e" stroke-width="0.8"/>
<circle cx="499.09" cy="262.70" r="1.4" fill="none" stroke="#3e3e3e" stroke-width="0.8"/>
<circle cx="502.28" cy="261.62" r="1.4" fill="none" stroke="#3e3e3e" stroke-width="0.8"/>
<circle cx="505.48" cy="260.52" r="1.4" fill="none" stroke="#3e3e3e" stroke-width="0.8"/>
<circle cx="508.67" cy="259.39" r="1.4" fill="none" stroke="#3e3e3e" stroke-width="0.8"/>
<circle cx="511.87" cy="258.22" r="1.4" fill="none" stroke="#3e3e3e" stroke-width="0.8"/>
<circle cx="515.06" cy="257.03" r="1.4" fill="none" stroke="#3e3e3e" stroke-width="0.8"/>
<circle cx="518.26" cy="255.80" r="1.4" fill="none" stroke="#3e3e3e" stroke-width="0.8"/>
<circle cx="521.45" cy="254.54" r="1.4" fill="none" stroke="#3e3e3e" stroke-width="0.8"/>
<circle cx="524.65" cy="253.26" r="1.4" fill="none" stroke="#3e3e3e" stroke-width="0.8"/>
<circle cx="527.84" cy="251.94" r="1.4" fill="none" stroke="#3e3e3e" stroke-width="0.8"/>
<circle cx="531.04" cy="250.60" r="1.4" fill="none" stroke="#3e3e3e" stroke-width="0.8"/>
<path d="M462.75 274.43 L465.15 274.43 L463.95 272.23Z" fill="#5a1f2a"/>
<path d="M465.94 273.83 L468.34 273.83 L467.14 271.63Z" fill="#5a1f2a"/>
<path d="M469.14 273.15 L471.54 273.15 L470.34 270.95Z" fill="#5a1f2a"/>
<path d="M472.33 272.38 L474.73 272.38 L473.53 270.18Z" fill="#5a1f2a"/>
<path d="M475.53 271.53 L477.93 271.53 L476.73 269.33Z" fill="#5a1f2a"/>
<path d="M478.72 270.57 L481.12 270.57 L479.92 268.37Z" fill="#5a1f2a"/>
<path d="M481.92 269.51 L484.32 269.51 L483.12 267.31Z" fill="#5a1f2a"/>
<path d="M485.11 268.35 L487.51 268.35 L486.31 266.15Z" fill="#5a1f2a"/>
<path d="M488.31 267.08 L490.71 267.08 L489.51 264.88Z" fill="#5a1f2a"/>
<path d="M491.50 265.70 L493.90 265.70 L492.70 263.50Z" fill="#5a1f2a"/>
<path d="M494.69 264.21 L497.09 264.21 L495.89 262.01Z" fill="#5a1f2a"/>
<path d="M497.89 262.59 L500.29 262.59 L499.09 260.39Z" fill="#5a1f2a"/>
<path d="M501.08 260.85 L503.48 260.85 L502.28 258.65Z" fill="#5a1f2a"/>
<path d="M504.28 258.98 L506.68 258.98 L505.48 256.78Z" fill="#5a1f2a"/>
<path d="M507.47 256.98 L509.87 256.98 L508.67 254.78Z" fill="#5a1f2a"/>
<path d="M510.67 254.84 L513.07 254.84 L511.87 252.64Z" fill="#5a1f2a"/>
<path d="M513.86 252.57 L516.26 252.57 L515.06 250.37Z" fill="#5a1f2a"/>
<path d="M517.06 250.15 L519.46 250.15 L518.26 247.95Z" fill="#5a1f2a"/>
<path d="M520.25 247.59 L522.65 247.59 L521.45 245.39Z" fill="#5a1f2a"/>
<path d="M523.45 244.88 L525.85 244.88 L524.65 242.68Z" fill="#5a1f2a"/>
<path d="M526.64 242.01 L529.04 242.01 L527.84 239.81Z" fill="#5a1f2a"/>
<path d="M529.84 238.99 L532.24 238.99 L531.04 236.79Z" fill="#5a1f2a"/>
<circle cx="467.09" cy="269.60" r="1.25" fill="#1a1a1a"/>
<circle cx="473.15" cy="266.32" r="1.25" fill="#1a1a1a"/>
<circle cx="478.35" cy="262.87" r="1.25" fill="#1a1a1a"/>
<circle cx="483.98" cy="258.43" r="1.25" fill="#1a1a1a"/>
<circle cx="489.61" cy="253.20" r="1.25" fill="#1a1a1a"/>
<circle cx="494.05" cy="248.49" r="1.25" fill="#1a1a1a"/>
<circle cx="499.79" cy="241.57" r="1.25" fill="#1a1a1a"/>
<circle cx="506.08" cy="232.89" r="1.25" fill="#1a1a1a"/>
<circle cx="511.49" cy="224.42" r="1.25" fill="#1a1a1a"/>
<circle cx="515.50" cy="217.54" r="1.25" fill="#1a1a1a"/>
<circle cx="520.05" cy="209.08" r="1.25" fill="#1a1a1a"/>
<circle cx="524.59" cy="199.89" r="1.25" fill="#1a1a1a"/>
<circle cx="527.95" cy="192.63" r="1.25" fill="#1a1a1a"/>
<circle cx="530.23" cy="187.48" r="1.25" fill="#1a1a1a"/>
<circle cx="531.96" cy="183.42" r="1.25" fill="#1a1a1a"/>
<circle cx="533.58" cy="179.52" r="1.25" fill="#1a1a1a"/>
<rect x="427.80" y="171.00" width="77.70" height="42.00" fill="#fff" stroke="#bdbdbd" stroke-width="0.9"/>
<line x1="429.50" y1="178.20" x2="439.70" y2="178.20" stroke="#4dbdec" stroke-width="1.3499999999999999"/>
<text transform="translate(441.10,180.50) scale(0.92,1)" class="lg">Fitted curve for C<tspan class="lsup" dy="-3.6">*</tspan><tspan class="lsub" dx="-1.7" dy="7.6">3333</tspan></text>
<line x1="429.50" y1="191.90" x2="439.70" y2="191.90" stroke="#c84a62" stroke-width="1.7" stroke-dasharray="4.3,2"/>
<text transform="translate(441.10,194.20) scale(0.92,1)" class="lg">Fitted curve for C<tspan class="lsup" dy="-3.6">*</tspan><tspan class="lsub" dx="-1.7" dy="7.6">1133</tspan></text>
<line x1="429.50" y1="205.40" x2="439.70" y2="205.40" stroke="#b0d080" stroke-width="1.15"/>
<text transform="translate(441.10,207.70) scale(0.92,1)" class="lg">Fitted curve for C<tspan class="lsup" dy="-3.6">*</tspan><tspan class="lsub" dx="-1.7" dy="7.6">3131</tspan></text>
<line x1="195.45" y1="429.40" x2="195.45" y2="320.50" stroke="#efefef" stroke-width="0.8"/>
<line x1="249.60" y1="429.40" x2="249.60" y2="320.50" stroke="#efefef" stroke-width="0.8"/>
<line x1="141.30" y1="393.10" x2="249.60" y2="393.10" stroke="#efefef" stroke-width="0.8"/>
<line x1="141.30" y1="356.80" x2="249.60" y2="356.80" stroke="#efefef" stroke-width="0.8"/>
<line x1="141.30" y1="320.50" x2="249.60" y2="320.50" stroke="#efefef" stroke-width="0.8"/>
<path d="M140.90 320.50 L140.90 429.80 L249.60 429.80" fill="none" stroke="#d0d0d0" stroke-width="1.6"/>
<line x1="141.30" y1="393.10" x2="142.50" y2="393.10" stroke="#d0d0d0" stroke-width="0.8"/>
<line x1="141.30" y1="356.80" x2="142.50" y2="356.80" stroke="#d0d0d0" stroke-width="0.8"/>
<line x1="141.30" y1="320.50" x2="142.50" y2="320.50" stroke="#d0d0d0" stroke-width="0.8"/>
<line x1="195.45" y1="429.40" x2="195.45" y2="428.20" stroke="#d0d0d0" stroke-width="0.8"/>
<line x1="249.60" y1="429.40" x2="249.60" y2="428.20" stroke="#d0d0d0" stroke-width="0.8"/>
<text transform="translate(138.30,432.40) scale(0.92,1)" text-anchor="end" class="tk">0</text>
<text transform="translate(138.30,396.10) scale(0.92,1)" text-anchor="end" class="tk">0.5</text>
<text transform="translate(138.30,359.80) scale(0.92,1)" text-anchor="end" class="tk">1</text>
<text transform="translate(138.30,323.50) scale(0.92,1)" text-anchor="end" class="tk">1.5</text>
<text transform="translate(141.30,440.15) scale(0.92,1)" text-anchor="middle" class="tk">0</text>
<text transform="translate(195.45,440.15) scale(0.92,1)" text-anchor="middle" class="tk">0.5</text>
<text transform="translate(249.60,440.15) scale(0.92,1)" text-anchor="middle" class="tk">1</text>
<text transform="translate(145.40,450.00) scale(0.972,1)" class="xl">Relative density of F3, (<tspan font-style="italic" class="rho">ρ</tspan><tspan class="sub" dx="0.3" dy="4.2">F3</tspan><tspan dx="1.3" dy="-4.2">)</tspan></text>
<text transform="translate(122.30,375.85) rotate(-90)" text-anchor="middle" class="yl">C<tspan class="ysup" dx="-0.6" dy="-4.7">*</tspan><tspan class="ysub" dx="-3.8" dy="7.9">ijkl</tspan></text>
<polyline points="141.30,429.40 142.21,429.39 143.12,429.37 144.03,429.34 144.94,429.31 145.85,429.26 146.76,429.21 147.67,429.16 148.58,429.10 149.49,429.03 150.40,428.96 151.31,428.88 152.22,428.80 153.13,428.72 154.04,428.63 154.95,428.53 155.86,428.43 156.77,428.33 157.68,428.22 158.59,428.11 159.50,427.99 160.41,427.87 161.32,427.75 162.23,427.62 163.14,427.49 164.05,427.35 164.96,427.21 165.87,427.07 166.78,426.92 167.69,426.77 168.60,426.62 169.51,426.46 170.42,426.30 171.33,426.13 172.24,425.97 173.15,425.80 174.06,425.62 174.97,425.44 175.88,425.26 176.79,425.08 177.70,424.89 178.61,424.70 179.52,424.50 180.43,424.31 181.34,424.11 182.25,423.90 183.16,423.69 184.07,423.48 184.98,423.27 185.89,423.06 186.80,422.84 187.71,422.61 188.62,422.39 189.53,422.16 190.44,421.93 191.35,421.70 192.26,421.46 193.17,421.22 194.08,420.98 194.99,420.73 195.91,420.48 196.82,420.23 197.73,419.98 198.64,419.72 199.55,419.46 200.46,419.20 201.37,418.94 202.28,418.67 203.19,418.40 204.10,418.13 205.01,417.85 205.92,417.57 206.83,417.29 207.74,417.01 208.65,416.72 209.56,416.43 210.47,416.14 211.38,415.84 212.29,415.55 213.20,415.25 214.11,414.94 215.02,414.64 215.93,414.33 216.84,414.02 217.75,413.71 218.66,413.39 219.57,413.08 220.48,412.76 221.39,412.43 222.30,412.11 223.21,411.78 224.12,411.45 225.03,411.12 225.94,410.78 226.85,410.45 227.76,410.11 228.67,409.76 229.58,409.42 230.49,409.07 231.40,408.72 232.31,408.37 233.22,408.01 234.13,407.66 235.04,407.30 235.95,406.94 236.86,406.57 237.77,406.21 238.68,405.84 239.59,405.47 240.50,405.09 241.41,404.72 242.32,404.34 243.23,403.96 244.14,403.58 245.05,403.19 245.96,402.80 246.87,402.41 247.78,402.02 248.69,401.63 249.60,401.23" fill="none" stroke="#b0d080" stroke-width="1.0"/>
<polyline points="141.30,429.40 142.21,429.40 143.12,429.40 144.03,429.40 144.94,429.40 145.85,429.40 146.76,429.40 147.67,429.39 148.58,429.39 149.49,429.39 150.40,429.38 151.31,429.37 152.22,429.37 153.13,429.36 154.04,429.35 154.95,429.33 155.86,429.32 156.77,429.30 157.68,429.28 158.59,429.26 159.50,429.23 160.41,429.21 161.32,429.18 162.23,429.14 163.14,429.11 164.05,429.07 164.96,429.03 165.87,428.98 166.78,428.93 167.69,428.88 168.60,428.82 169.51,428.75 170.42,428.69 171.33,428.62 172.24,428.54 173.15,428.46 174.06,428.37 174.97,428.28 175.88,428.19 176.79,428.09 177.70,427.98 178.61,427.87 179.52,427.75 180.43,427.62 181.34,427.49 182.25,427.35 183.16,427.21 184.07,427.06 184.98,426.90 185.89,426.73 186.80,426.56 187.71,426.38 188.62,426.19 189.53,426.00 190.44,425.80 191.35,425.58 192.26,425.37 193.17,425.14 194.08,424.90 194.99,424.66 195.91,424.40 196.82,424.14 197.73,423.87 198.64,423.59 199.55,423.30 200.46,423.00 201.37,422.69 202.28,422.37 203.19,422.03 204.10,421.69 205.01,421.34 205.92,420.98 206.83,420.61 207.74,420.22 208.65,419.83 209.56,419.42 210.47,419.00 211.38,418.57 212.29,418.13 213.20,417.68 214.11,417.21 215.02,416.73 215.93,416.24 216.84,415.74 217.75,415.22 218.66,414.69 219.57,414.15 220.48,413.59 221.39,413.02 222.30,412.44 223.21,411.84 224.12,411.23 225.03,410.60 225.94,409.96 226.85,409.30 227.76,408.63 228.67,407.95 229.58,407.25 230.49,406.53 231.40,405.80 232.31,405.06 233.22,404.29 234.13,403.51 235.04,402.72 235.95,401.91 236.86,401.08 237.77,400.24 238.68,399.37 239.59,398.50 240.50,397.60 241.41,396.69 242.32,395.76 243.23,394.81 244.14,393.84 245.05,392.86 245.96,391.85 246.87,390.83 247.78,389.79 248.69,388.73 249.60,387.65" fill="none" stroke="#b8304a" stroke-width="1.1" stroke-dasharray="3,2.6"/>
<polyline points="141.30,429.40 142.21,429.40 143.12,429.38 144.03,429.35 144.94,429.32 145.85,429.27 146.76,429.20 147.67,429.13 148.58,429.04 149.49,428.95 150.40,428.83 151.31,428.71 152.22,428.57 153.13,428.42 154.04,428.26 154.95,428.08 155.86,427.90 156.77,427.69 157.68,427.48 158.59,427.25 159.50,427.01 160.41,426.75 161.32,426.48 162.23,426.20 163.14,425.90 164.05,425.59 164.96,425.27 165.87,424.93 166.78,424.58 167.69,424.22 168.60,423.84 169.51,423.45 170.42,423.04 171.33,422.62 172.24,422.18 173.15,421.74 174.06,421.27 174.97,420.80 175.88,420.31 176.79,419.80 177.70,419.28 178.61,418.75 179.52,418.20 180.43,417.64 181.34,417.06 182.25,416.47 183.16,415.87 184.07,415.25 184.98,414.61 185.89,413.97 186.80,413.30 187.71,412.63 188.62,411.94 189.53,411.23 190.44,410.51 191.35,409.78 192.26,409.03 193.17,408.26 194.08,407.48 194.99,406.69 195.91,405.88 196.82,405.06 197.73,404.22 198.64,403.37 199.55,402.50 200.46,401.62 201.37,400.73 202.28,399.81 203.19,398.89 204.10,397.95 205.01,396.99 205.92,396.02 206.83,395.04 207.74,394.04 208.65,393.02 209.56,391.99 210.47,390.95 211.38,389.89 212.29,388.81 213.20,387.72 214.11,386.62 215.02,385.50 215.93,384.36 216.84,383.21 217.75,382.05 218.66,380.87 219.57,379.67 220.48,378.46 221.39,377.24 222.30,376.00 223.21,374.74 224.12,373.47 225.03,372.18 225.94,370.88 226.85,369.57 227.76,368.23 228.67,366.89 229.58,365.53 230.49,364.15 231.40,362.76 232.31,361.35 233.22,359.92 234.13,358.49 235.04,357.03 235.95,355.56 236.86,354.08 237.77,352.58 238.68,351.06 239.59,349.53 240.50,347.99 241.41,346.43 242.32,344.85 243.23,343.26 244.14,341.65 245.05,340.03 245.96,338.39 246.87,336.73 247.78,335.07 248.69,333.38 249.60,331.68" fill="none" stroke="#4dbdec" stroke-width="1.3"/>
<circle cx="154.30" cy="428.60" r="1.4" fill="none" stroke="#3e3e3e" stroke-width="0.8"/>
<circle cx="157.55" cy="428.24" r="1.4" fill="none" stroke="#3e3e3e" stroke-width="0.8"/>
<circle cx="160.79" cy="427.82" r="1.4" fill="none" stroke="#3e3e3e" stroke-width="0.8"/>
<circle cx="162.96" cy="427.51" r="1.4" fill="none" stroke="#3e3e3e" stroke-width="0.8"/>
<circle cx="167.73" cy="426.77" r="1.4" fill="none" stroke="#3e3e3e" stroke-width="0.8"/>
<circle cx="172.82" cy="425.86" r="1.4" fill="none" stroke="#3e3e3e" stroke-width="0.8"/>
<circle cx="181.15" cy="424.15" r="1.4" fill="none" stroke="#3e3e3e" stroke-width="0.8"/>
<circle cx="187.54" cy="422.66" r="1.4" fill="none" stroke="#3e3e3e" stroke-width="0.8"/>
<circle cx="194.37" cy="420.90" r="1.4" fill="none" stroke="#3e3e3e" stroke-width="0.8"/>
<circle cx="202.92" cy="418.48" r="1.4" fill="none" stroke="#3e3e3e" stroke-width="0.8"/>
<circle cx="209.31" cy="416.51" r="1.4" fill="none" stroke="#3e3e3e" stroke-width="0.8"/>
<circle cx="217.11" cy="413.93" r="1.4" fill="none" stroke="#3e3e3e" stroke-width="0.8"/>
<circle cx="222.63" cy="411.99" r="1.4" fill="none" stroke="#3e3e3e" stroke-width="0.8"/>
<circle cx="229.35" cy="409.51" r="1.4" fill="none" stroke="#3e3e3e" stroke-width="0.8"/>
<circle cx="237.58" cy="406.28" r="1.4" fill="none" stroke="#3e3e3e" stroke-width="0.8"/>
<circle cx="242.02" cy="404.46" r="1.4" fill="none" stroke="#3e3e3e" stroke-width="0.8"/>
<circle cx="244.73" cy="403.33" r="1.4" fill="none" stroke="#3e3e3e" stroke-width="0.8"/>
<circle cx="247.33" cy="402.22" r="1.4" fill="none" stroke="#3e3e3e" stroke-width="0.8"/>
<circle cx="249.60" cy="401.23" r="1.4" fill="none" stroke="#3e3e3e" stroke-width="0.8"/>
<path d="M153.10 430.34 L155.50 430.34 L154.30 428.14Z" fill="#5a1f2a"/>
<path d="M156.35 430.28 L158.75 430.28 L157.55 428.08Z" fill="#5a1f2a"/>
<path d="M159.59 430.19 L161.99 430.19 L160.79 427.99Z" fill="#5a1f2a"/>
<path d="M161.76 430.12 L164.16 430.12 L162.96 427.92Z" fill="#5a1f2a"/>
<path d="M166.53 429.87 L168.93 429.87 L167.73 427.67Z" fill="#5a1f2a"/>
<path d="M171.62 429.49 L174.02 429.49 L172.82 427.29Z" fill="#5a1f2a"/>
<path d="M179.95 428.52 L182.35 428.52 L181.15 426.32Z" fill="#5a1f2a"/>
<path d="M186.34 427.42 L188.74 427.42 L187.54 425.22Z" fill="#5a1f2a"/>
<path d="M193.17 425.83 L195.57 425.83 L194.37 423.63Z" fill="#5a1f2a"/>
<path d="M201.72 423.13 L204.12 423.13 L202.92 420.93Z" fill="#5a1f2a"/>
<path d="M208.11 420.53 L210.51 420.53 L209.31 418.33Z" fill="#5a1f2a"/>
<path d="M215.91 416.58 L218.31 416.58 L217.11 414.38Z" fill="#5a1f2a"/>
<path d="M221.43 413.22 L223.83 413.22 L222.63 411.02Z" fill="#5a1f2a"/>
<path d="M228.15 408.43 L230.55 408.43 L229.35 406.23Z" fill="#5a1f2a"/>
<path d="M236.38 401.41 L238.78 401.41 L237.58 399.21Z" fill="#5a1f2a"/>
<path d="M240.82 397.06 L243.22 397.06 L242.02 394.86Z" fill="#5a1f2a"/>
<path d="M243.53 394.21 L245.93 394.21 L244.73 392.01Z" fill="#5a1f2a"/>
<path d="M246.13 391.31 L248.53 391.31 L247.33 389.11Z" fill="#5a1f2a"/>
<path d="M248.40 388.65 L250.80 388.65 L249.60 386.45Z" fill="#5a1f2a"/>
<circle cx="154.30" cy="428.21" r="1.25" fill="#1a1a1a"/>
<circle cx="157.55" cy="427.51" r="1.25" fill="#1a1a1a"/>
<circle cx="160.79" cy="426.64" r="1.25" fill="#1a1a1a"/>
<circle cx="162.96" cy="425.96" r="1.25" fill="#1a1a1a"/>
<circle cx="167.73" cy="424.20" r="1.25" fill="#1a1a1a"/>
<circle cx="172.82" cy="421.90" r="1.25" fill="#1a1a1a"/>
<circle cx="181.15" cy="417.18" r="1.25" fill="#1a1a1a"/>
<circle cx="187.54" cy="412.76" r="1.25" fill="#1a1a1a"/>
<circle cx="194.37" cy="407.24" r="1.25" fill="#1a1a1a"/>
<circle cx="202.92" cy="399.16" r="1.25" fill="#1a1a1a"/>
<circle cx="209.31" cy="392.27" r="1.25" fill="#1a1a1a"/>
<circle cx="217.11" cy="382.86" r="1.25" fill="#1a1a1a"/>
<circle cx="222.63" cy="375.53" r="1.25" fill="#1a1a1a"/>
<circle cx="229.35" cy="365.87" r="1.25" fill="#1a1a1a"/>
<circle cx="237.58" cy="352.89" r="1.25" fill="#1a1a1a"/>
<circle cx="242.02" cy="345.37" r="1.25" fill="#1a1a1a"/>
<circle cx="244.73" cy="340.60" r="1.25" fill="#1a1a1a"/>
<circle cx="247.33" cy="335.90" r="1.25" fill="#1a1a1a"/>
<circle cx="249.60" cy="331.68" r="1.25" fill="#1a1a1a"/>
<rect x="143.60" y="323.40" width="77.70" height="42.00" fill="#fff" stroke="#bdbdbd" stroke-width="0.9"/>
<line x1="145.30" y1="330.60" x2="155.50" y2="330.60" stroke="#4dbdec" stroke-width="1.5"/>
<text transform="translate(156.90,332.90) scale(0.92,1)" class="lg">Fitted curve for C<tspan class="lsup" dy="-3.6">*</tspan><tspan class="lsub" dx="-1.7" dy="7.6">1111</tspan></text>
<line x1="145.30" y1="344.30" x2="155.50" y2="344.30" stroke="#b8304a" stroke-width="1.3" stroke-dasharray="4.3,2"/>
<text transform="translate(156.90,346.60) scale(0.92,1)" class="lg">Fitted curve for C<tspan class="lsup" dy="-3.6">*</tspan><tspan class="lsub" dx="-1.7" dy="7.6">1122</tspan></text>
<line x1="145.30" y1="357.80" x2="155.50" y2="357.80" stroke="#b0d080" stroke-width="1.2"/>
<text transform="translate(156.90,360.10) scale(0.92,1)" class="lg">Fitted curve for C<tspan class="lsup" dy="-3.6">*</tspan><tspan class="lsub" dx="-1.7" dy="7.6">1212</tspan></text>
<line x1="337.45" y1="429.40" x2="337.45" y2="320.50" stroke="#efefef" stroke-width="0.8"/>
<line x1="391.60" y1="429.40" x2="391.60" y2="320.50" stroke="#efefef" stroke-width="0.8"/>
<line x1="283.30" y1="393.10" x2="391.60" y2="393.10" stroke="#efefef" stroke-width="0.8"/>
<line x1="283.30" y1="356.80" x2="391.60" y2="356.80" stroke="#efefef" stroke-width="0.8"/>
<line x1="283.30" y1="320.50" x2="391.60" y2="320.50" stroke="#efefef" stroke-width="0.8"/>
<path d="M282.90 320.50 L282.90 429.80 L391.60 429.80" fill="none" stroke="#d0d0d0" stroke-width="1.6"/>
<line x1="283.30" y1="393.10" x2="284.50" y2="393.10" stroke="#d0d0d0" stroke-width="0.8"/>
<line x1="283.30" y1="356.80" x2="284.50" y2="356.80" stroke="#d0d0d0" stroke-width="0.8"/>
<line x1="283.30" y1="320.50" x2="284.50" y2="320.50" stroke="#d0d0d0" stroke-width="0.8"/>
<line x1="337.45" y1="429.40" x2="337.45" y2="428.20" stroke="#d0d0d0" stroke-width="0.8"/>
<line x1="391.60" y1="429.40" x2="391.60" y2="428.20" stroke="#d0d0d0" stroke-width="0.8"/>
<text transform="translate(280.30,432.40) scale(0.92,1)" text-anchor="end" class="tk">0</text>
<text transform="translate(280.30,396.10) scale(0.92,1)" text-anchor="end" class="tk">0.5</text>
<text transform="translate(280.30,359.80) scale(0.92,1)" text-anchor="end" class="tk">1</text>
<text transform="translate(280.30,323.50) scale(0.92,1)" text-anchor="end" class="tk">1.5</text>
<text transform="translate(283.30,440.15) scale(0.92,1)" text-anchor="middle" class="tk">0</text>
<text transform="translate(337.45,440.15) scale(0.92,1)" text-anchor="middle" class="tk">0.5</text>
<text transform="translate(391.60,440.15) scale(0.92,1)" text-anchor="middle" class="tk">1</text>
<text transform="translate(287.40,450.00) scale(0.972,1)" class="xl">Relative density of F3, (<tspan font-style="italic" class="rho">ρ</tspan><tspan class="sub" dx="0.3" dy="4.2">F3</tspan><tspan dx="1.3" dy="-4.2">)</tspan></text>
<text transform="translate(264.30,375.85) rotate(-90)" text-anchor="middle" class="yl">C<tspan class="ysup" dx="-0.6" dy="-4.7">*</tspan><tspan class="ysub" dx="-3.8" dy="7.9">ijkl</tspan></text>
<polyline points="283.30,429.40 284.21,429.40 285.12,429.39 286.03,429.38 286.94,429.37 287.85,429.35 288.76,429.33 289.67,429.30 290.58,429.27 291.49,429.24 292.40,429.20 293.31,429.16 294.22,429.11 295.13,429.06 296.04,429.01 296.95,428.95 297.86,428.89 298.77,428.83 299.68,428.76 300.59,428.68 301.50,428.60 302.41,428.52 303.32,428.44 304.23,428.35 305.14,428.25 306.05,428.16 306.96,428.06 307.87,427.95 308.78,427.84 309.69,427.73 310.60,427.61 311.51,427.49 312.42,427.36 313.33,427.23 314.24,427.10 315.15,426.96 316.06,426.82 316.97,426.68 317.88,426.53 318.79,426.37 319.70,426.22 320.61,426.06 321.52,425.89 322.43,425.72 323.34,425.55 324.25,425.37 325.16,425.19 326.07,425.01 326.98,424.82 327.89,424.62 328.80,424.43 329.71,424.23 330.62,424.02 331.53,423.81 332.44,423.60 333.35,423.38 334.26,423.16 335.17,422.94 336.08,422.71 336.99,422.48 337.91,422.24 338.82,422.00 339.73,421.75 340.64,421.50 341.55,421.25 342.46,421.00 343.37,420.74 344.28,420.47 345.19,420.20 346.10,419.93 347.01,419.65 347.92,419.37 348.83,419.09 349.74,418.80 350.65,418.51 351.56,418.21 352.47,417.91 353.38,417.61 354.29,417.30 355.20,416.99 356.11,416.67 357.02,416.35 357.93,416.02 358.84,415.70 359.75,415.36 360.66,415.03 361.57,414.69 362.48,414.34 363.39,414.00 364.30,413.64 365.21,413.29 366.12,412.93 367.03,412.56 367.94,412.20 368.85,411.82 369.76,411.45 370.67,411.07 371.58,410.68 372.49,410.30 373.40,409.90 374.31,409.51 375.22,409.11 376.13,408.70 377.04,408.30 377.95,407.89 378.86,407.47 379.77,407.05 380.68,406.63 381.59,406.20 382.50,405.77 383.41,405.33 384.32,404.89 385.23,404.45 386.14,404.00 387.05,403.55 387.96,403.09 388.87,402.63 389.78,402.17 390.69,401.70 391.60,401.23" fill="none" stroke="#b0d080" stroke-width="1.0"/>
<polyline points="283.30,428.17 284.21,428.17 285.12,428.17 286.03,428.17 286.94,428.17 287.85,428.16 288.76,428.16 289.67,428.16 290.58,428.16 291.49,428.16 292.40,428.15 293.31,428.15 294.22,428.15 295.13,428.14 296.04,428.13 296.95,428.12 297.86,428.11 298.77,428.10 299.68,428.09 300.59,428.07 301.50,428.05 302.41,428.04 303.32,428.01 304.23,427.99 305.14,427.96 306.05,427.93 306.96,427.90 307.87,427.87 308.78,427.83 309.69,427.79 310.60,427.74 311.51,427.69 312.42,427.64 313.33,427.59 314.24,427.53 315.15,427.46 316.06,427.39 316.97,427.32 317.88,427.24 318.79,427.16 319.70,427.07 320.61,426.98 321.52,426.88 322.43,426.78 323.34,426.67 324.25,426.55 325.16,426.43 326.07,426.30 326.98,426.17 327.89,426.03 328.80,425.88 329.71,425.73 330.62,425.57 331.53,425.40 332.44,425.22 333.35,425.04 334.26,424.85 335.17,424.65 336.08,424.44 336.99,424.22 337.91,424.00 338.82,423.76 339.73,423.52 340.64,423.27 341.55,423.01 342.46,422.74 343.37,422.46 344.28,422.17 345.19,421.87 346.10,421.56 347.01,421.23 347.92,420.90 348.83,420.56 349.74,420.20 350.65,419.84 351.56,419.46 352.47,419.07 353.38,418.67 354.29,418.26 355.20,417.83 356.11,417.40 357.02,416.95 357.93,416.48 358.84,416.01 359.75,415.52 360.66,415.01 361.57,414.49 362.48,413.96 363.39,413.42 364.30,412.86 365.21,412.28 366.12,411.69 367.03,411.09 367.94,410.47 368.85,409.83 369.76,409.18 370.67,408.51 371.58,407.83 372.49,407.13 373.40,406.41 374.31,405.68 375.22,404.92 376.13,404.16 377.04,403.37 377.95,402.57 378.86,401.75 379.77,400.91 380.68,400.05 381.59,399.17 382.50,398.28 383.41,397.36 384.32,396.43 385.23,395.48 386.14,394.50 387.05,393.51 387.96,392.50 388.87,391.46 389.78,390.41 390.69,389.33 391.60,388.24" fill="none" stroke="#b8304a" stroke-width="1.1" stroke-dasharray="3,2.6"/>
<polyline points="283.30,429.40 284.21,429.40 285.12,429.40 286.03,429.40 286.94,429.40 287.85,429.39 288.76,429.39 289.67,429.38 290.58,429.37 291.49,429.35 292.40,429.33 293.31,429.31 294.22,429.29 295.13,429.26 296.04,429.22 296.95,429.18 297.86,429.14 298.77,429.09 299.68,429.03 300.59,428.96 301.50,428.89 302.41,428.81 303.32,428.73 304.23,428.63 305.14,428.53 306.05,428.42 306.96,428.30 307.87,428.17 308.78,428.03 309.69,427.88 310.60,427.72 311.51,427.55 312.42,427.37 313.33,427.18 314.24,426.97 315.15,426.76 316.06,426.53 316.97,426.29 317.88,426.03 318.79,425.76 319.70,425.48 320.61,425.18 321.52,424.87 322.43,424.55 323.34,424.21 324.25,423.85 325.16,423.48 326.07,423.09 326.98,422.69 327.89,422.27 328.80,421.83 329.71,421.37 330.62,420.90 331.53,420.41 332.44,419.90 333.35,419.37 334.26,418.83 335.17,418.26 336.08,417.67 336.99,417.07 337.91,416.44 338.82,415.79 339.73,415.12 340.64,414.43 341.55,413.72 342.46,412.99 343.37,412.23 344.28,411.45 345.19,410.65 346.10,409.82 347.01,408.98 347.92,408.10 348.83,407.21 349.74,406.28 350.65,405.34 351.56,404.36 352.47,403.37 353.38,402.34 354.29,401.29 355.20,400.22 356.11,399.11 357.02,397.98 357.93,396.83 358.84,395.64 359.75,394.43 360.66,393.18 361.57,391.91 362.48,390.61 363.39,389.28 364.30,387.92 365.21,386.53 366.12,385.11 367.03,383.66 367.94,382.18 368.85,380.66 369.76,379.12 370.67,377.54 371.58,375.93 372.49,374.29 373.40,372.61 374.31,370.91 375.22,369.16 376.13,367.39 377.04,365.58 377.95,363.73 378.86,361.85 379.77,359.93 380.68,357.98 381.59,356.00 382.50,353.97 383.41,351.91 384.32,349.82 385.23,347.68 386.14,345.51 387.05,343.30 387.96,341.06 388.87,338.77 389.78,336.45 390.69,334.08 391.60,331.68" fill="none" stroke="#4dbdec" stroke-width="1.3"/>
<circle cx="296.30" cy="428.99" r="1.4" fill="none" stroke="#3e3e3e" stroke-width="0.8"/>
<circle cx="299.55" cy="428.77" r="1.4" fill="none" stroke="#3e3e3e" stroke-width="0.8"/>
<circle cx="302.79" cy="428.49" r="1.4" fill="none" stroke="#3e3e3e" stroke-width="0.8"/>
<circle cx="304.96" cy="428.27" r="1.4" fill="none" stroke="#3e3e3e" stroke-width="0.8"/>
<circle cx="309.73" cy="427.72" r="1.4" fill="none" stroke="#3e3e3e" stroke-width="0.8"/>
<circle cx="314.82" cy="427.01" r="1.4" fill="none" stroke="#3e3e3e" stroke-width="0.8"/>
<circle cx="323.15" cy="425.59" r="1.4" fill="none" stroke="#3e3e3e" stroke-width="0.8"/>
<circle cx="329.54" cy="424.26" r="1.4" fill="none" stroke="#3e3e3e" stroke-width="0.8"/>
<circle cx="336.37" cy="422.64" r="1.4" fill="none" stroke="#3e3e3e" stroke-width="0.8"/>
<circle cx="344.92" cy="420.28" r="1.4" fill="none" stroke="#3e3e3e" stroke-width="0.8"/>
<circle cx="351.31" cy="418.29" r="1.4" fill="none" stroke="#3e3e3e" stroke-width="0.8"/>
<circle cx="359.11" cy="415.60" r="1.4" fill="none" stroke="#3e3e3e" stroke-width="0.8"/>
<circle cx="364.63" cy="413.51" r="1.4" fill="none" stroke="#3e3e3e" stroke-width="0.8"/>
<circle cx="371.35" cy="410.78" r="1.4" fill="none" stroke="#3e3e3e" stroke-width="0.8"/>
<circle cx="379.58" cy="407.14" r="1.4" fill="none" stroke="#3e3e3e" stroke-width="0.8"/>
<circle cx="384.02" cy="405.04" r="1.4" fill="none" stroke="#3e3e3e" stroke-width="0.8"/>
<circle cx="386.73" cy="403.71" r="1.4" fill="none" stroke="#3e3e3e" stroke-width="0.8"/>
<circle cx="389.33" cy="402.40" r="1.4" fill="none" stroke="#3e3e3e" stroke-width="0.8"/>
<circle cx="391.60" cy="401.23" r="1.4" fill="none" stroke="#3e3e3e" stroke-width="0.8"/>
<path d="M295.10 429.13 L297.50 429.13 L296.30 426.93Z" fill="#5a1f2a"/>
<path d="M298.35 429.09 L300.75 429.09 L299.55 426.89Z" fill="#5a1f2a"/>
<path d="M301.59 429.03 L303.99 429.03 L302.79 426.83Z" fill="#5a1f2a"/>
<path d="M303.76 428.97 L306.16 428.97 L304.96 426.77Z" fill="#5a1f2a"/>
<path d="M308.53 428.79 L310.93 428.79 L309.73 426.59Z" fill="#5a1f2a"/>
<path d="M313.62 428.49 L316.02 428.49 L314.82 426.29Z" fill="#5a1f2a"/>
<path d="M321.95 427.69 L324.35 427.69 L323.15 425.49Z" fill="#5a1f2a"/>
<path d="M328.34 426.76 L330.74 426.76 L329.54 424.56Z" fill="#5a1f2a"/>
<path d="M335.17 425.37 L337.57 425.37 L336.37 423.17Z" fill="#5a1f2a"/>
<path d="M343.72 422.95 L346.12 422.95 L344.92 420.75Z" fill="#5a1f2a"/>
<path d="M350.11 420.56 L352.51 420.56 L351.31 418.36Z" fill="#5a1f2a"/>
<path d="M357.91 416.86 L360.31 416.86 L359.11 414.66Z" fill="#5a1f2a"/>
<path d="M363.43 413.65 L365.83 413.65 L364.63 411.45Z" fill="#5a1f2a"/>
<path d="M370.15 409.00 L372.55 409.00 L371.35 406.80Z" fill="#5a1f2a"/>
<path d="M378.38 402.08 L380.78 402.08 L379.58 399.88Z" fill="#5a1f2a"/>
<path d="M382.82 397.74 L385.22 397.74 L384.02 395.54Z" fill="#5a1f2a"/>
<path d="M385.53 394.86 L387.93 394.86 L386.73 392.66Z" fill="#5a1f2a"/>
<path d="M388.13 391.94 L390.53 391.94 L389.33 389.74Z" fill="#5a1f2a"/>
<path d="M390.40 389.24 L392.80 389.24 L391.60 387.04Z" fill="#5a1f2a"/>
<circle cx="296.30" cy="429.21" r="1.25" fill="#1a1a1a"/>
<circle cx="299.55" cy="429.04" r="1.25" fill="#1a1a1a"/>
<circle cx="302.79" cy="428.78" r="1.25" fill="#1a1a1a"/>
<circle cx="304.96" cy="428.55" r="1.25" fill="#1a1a1a"/>
<circle cx="309.73" cy="427.88" r="1.25" fill="#1a1a1a"/>
<circle cx="314.82" cy="426.84" r="1.25" fill="#1a1a1a"/>
<circle cx="323.15" cy="424.28" r="1.25" fill="#1a1a1a"/>
<circle cx="329.54" cy="421.46" r="1.25" fill="#1a1a1a"/>
<circle cx="336.37" cy="417.49" r="1.25" fill="#1a1a1a"/>
<circle cx="344.92" cy="410.88" r="1.25" fill="#1a1a1a"/>
<circle cx="351.31" cy="404.63" r="1.25" fill="#1a1a1a"/>
<circle cx="359.11" cy="395.28" r="1.25" fill="#1a1a1a"/>
<circle cx="364.63" cy="387.41" r="1.25" fill="#1a1a1a"/>
<circle cx="371.35" cy="376.34" r="1.25" fill="#1a1a1a"/>
<circle cx="379.58" cy="360.34" r="1.25" fill="#1a1a1a"/>
<circle cx="384.02" cy="350.51" r="1.25" fill="#1a1a1a"/>
<circle cx="386.73" cy="344.09" r="1.25" fill="#1a1a1a"/>
<circle cx="389.33" cy="337.61" r="1.25" fill="#1a1a1a"/>
<circle cx="391.60" cy="331.68" r="1.25" fill="#1a1a1a"/>
<rect x="285.60" y="323.40" width="77.70" height="42.00" fill="#fff" stroke="#bdbdbd" stroke-width="0.9"/>
<line x1="287.30" y1="330.60" x2="297.50" y2="330.60" stroke="#4dbdec" stroke-width="1.5"/>
<text transform="translate(298.90,332.90) scale(0.92,1)" class="lg">Fitted curve for C<tspan class="lsup" dy="-3.6">*</tspan><tspan class="lsub" dx="-1.7" dy="7.6">2222</tspan></text>
<line x1="287.30" y1="344.30" x2="297.50" y2="344.30" stroke="#b8304a" stroke-width="1.3" stroke-dasharray="4.3,2"/>
<text transform="translate(298.90,346.60) scale(0.92,1)" class="lg">Fitted curve for C<tspan class="lsup" dy="-3.6">*</tspan><tspan class="lsub" dx="-1.7" dy="7.6">2233</tspan></text>
<line x1="287.30" y1="357.80" x2="297.50" y2="357.80" stroke="#b0d080" stroke-width="1.2"/>
<text transform="translate(298.90,360.10) scale(0.92,1)" class="lg">Fitted curve for C<tspan class="lsup" dy="-3.6">*</tspan><tspan class="lsub" dx="-1.7" dy="7.6">2323</tspan></text>
<line x1="479.65" y1="429.40" x2="479.65" y2="320.50" stroke="#efefef" stroke-width="0.8"/>
<line x1="533.80" y1="429.40" x2="533.80" y2="320.50" stroke="#efefef" stroke-width="0.8"/>
<line x1="425.50" y1="393.10" x2="533.80" y2="393.10" stroke="#efefef" stroke-width="0.8"/>
<line x1="425.50" y1="356.80" x2="533.80" y2="356.80" stroke="#efefef" stroke-width="0.8"/>
<line x1="425.50" y1="320.50" x2="533.80" y2="320.50" stroke="#efefef" stroke-width="0.8"/>
<path d="M425.10 320.50 L425.10 429.80 L533.80 429.80" fill="none" stroke="#d0d0d0" stroke-width="1.6"/>
<line x1="425.50" y1="393.10" x2="426.70" y2="393.10" stroke="#d0d0d0" stroke-width="0.8"/>
<line x1="425.50" y1="356.80" x2="426.70" y2="356.80" stroke="#d0d0d0" stroke-width="0.8"/>
<line x1="425.50" y1="320.50" x2="426.70" y2="320.50" stroke="#d0d0d0" stroke-width="0.8"/>
<line x1="479.65" y1="429.40" x2="479.65" y2="428.20" stroke="#d0d0d0" stroke-width="0.8"/>
<line x1="533.80" y1="429.40" x2="533.80" y2="428.20" stroke="#d0d0d0" stroke-width="0.8"/>
<text transform="translate(422.50,432.40) scale(0.92,1)" text-anchor="end" class="tk">0</text>
<text transform="translate(422.50,396.10) scale(0.92,1)" text-anchor="end" class="tk">0.5</text>
<text transform="translate(422.50,359.80) scale(0.92,1)" text-anchor="end" class="tk">1</text>
<text transform="translate(422.50,323.50) scale(0.92,1)" text-anchor="end" class="tk">1.5</text>
<text transform="translate(425.50,440.15) scale(0.92,1)" text-anchor="middle" class="tk">0</text>
<text transform="translate(479.65,440.15) scale(0.92,1)" text-anchor="middle" class="tk">0.5</text>
<text transform="translate(533.80,440.15) scale(0.92,1)" text-anchor="middle" class="tk">1</text>
<text transform="translate(429.60,450.00) scale(0.972,1)" class="xl">Relative density of F3, (<tspan font-style="italic" class="rho">ρ</tspan><tspan class="sub" dx="0.3" dy="4.2">F3</tspan><tspan dx="1.3" dy="-4.2">)</tspan></text>
<text transform="translate(406.50,375.85) rotate(-90)" text-anchor="middle" class="yl">C<tspan class="ysup" dx="-0.6" dy="-4.7">*</tspan><tspan class="ysub" dx="-3.8" dy="7.9">ijkl</tspan></text>
<polyline points="425.50,429.40 426.41,429.40 427.32,429.39 428.23,429.38 429.14,429.37 430.05,429.35 430.96,429.33 431.87,429.30 432.78,429.27 433.69,429.24 434.60,429.20 435.51,429.16 436.42,429.12 437.33,429.07 438.24,429.01 439.15,428.96 440.06,428.89 440.97,428.83 441.88,428.76 442.79,428.69 443.70,428.61 444.61,428.53 445.52,428.44 446.43,428.36 447.34,428.26 448.25,428.17 449.16,428.07 450.07,427.96 450.98,427.85 451.89,427.74 452.80,427.62 453.71,427.50 454.62,427.38 455.53,427.25 456.44,427.12 457.35,426.98 458.26,426.84 459.17,426.70 460.08,426.55 460.99,426.40 461.90,426.24 462.81,426.08 463.72,425.92 464.63,425.75 465.54,425.58 466.45,425.40 467.36,425.22 468.27,425.04 469.18,424.85 470.09,424.66 471.00,424.47 471.91,424.27 472.82,424.06 473.73,423.86 474.64,423.64 475.55,423.43 476.46,423.21 477.37,422.99 478.28,422.76 479.19,422.53 480.11,422.29 481.02,422.06 481.93,421.81 482.84,421.57 483.75,421.32 484.66,421.06 485.57,420.80 486.48,420.54 487.39,420.27 488.30,420.00 489.21,419.73 490.12,419.45 491.03,419.17 491.94,418.88 492.85,418.59 493.76,418.30 494.67,418.00 495.58,417.70 496.49,417.39 497.40,417.08 498.31,416.77 499.22,416.45 500.13,416.13 501.04,415.80 501.95,415.47 502.86,415.14 503.77,414.80 504.68,414.46 505.59,414.11 506.50,413.77 507.41,413.41 508.32,413.05 509.23,412.69 510.14,412.33 511.05,411.96 511.96,411.59 512.87,411.21 513.78,410.83 514.69,410.44 515.60,410.05 516.51,409.66 517.42,409.27 518.33,408.86 519.24,408.46 520.15,408.05 521.06,407.64 521.97,407.22 522.88,406.80 523.79,406.38 524.70,405.95 525.61,405.52 526.52,405.08 527.43,404.64 528.34,404.20 529.25,403.75 530.16,403.30 531.07,402.84 531.98,402.38 532.89,401.92 533.80,401.45" fill="none" stroke="#b0d080" stroke-width="1.0"/>
<polyline points="425.50,427.95 426.41,427.95 427.32,427.95 428.23,427.95 429.14,427.94 430.05,427.94 430.96,427.94 431.87,427.93 432.78,427.92 433.69,427.91 434.60,427.90 435.51,427.88 436.42,427.87 437.33,427.85 438.24,427.82 439.15,427.80 440.06,427.77 440.97,427.74 441.88,427.70 442.79,427.66 443.70,427.62 444.61,427.58 445.52,427.53 446.43,427.47 447.34,427.41 448.25,427.35 449.16,427.28 450.07,427.21 450.98,427.14 451.89,427.06 452.80,426.97 453.71,426.88 454.62,426.79 455.53,426.69 456.44,426.58 457.35,426.47 458.26,426.35 459.17,426.23 460.08,426.10 460.99,425.97 461.90,425.83 462.81,425.68 463.72,425.53 464.63,425.37 465.54,425.20 466.45,425.03 467.36,424.85 468.27,424.67 469.18,424.48 470.09,424.28 471.00,424.07 471.91,423.86 472.82,423.64 473.73,423.41 474.64,423.18 475.55,422.93 476.46,422.68 477.37,422.43 478.28,422.16 479.19,421.89 480.11,421.61 481.02,421.32 481.93,421.02 482.84,420.71 483.75,420.40 484.66,420.08 485.57,419.74 486.48,419.40 487.39,419.06 488.30,418.70 489.21,418.33 490.12,417.96 491.03,417.57 491.94,417.18 492.85,416.77 493.76,416.36 494.67,415.94 495.58,415.51 496.49,415.07 497.40,414.62 498.31,414.16 499.22,413.69 500.13,413.21 501.04,412.72 501.95,412.22 502.86,411.70 503.77,411.18 504.68,410.65 505.59,410.11 506.50,409.56 507.41,408.99 508.32,408.42 509.23,407.83 510.14,407.24 511.05,406.63 511.96,406.01 512.87,405.39 513.78,404.75 514.69,404.09 515.60,403.43 516.51,402.76 517.42,402.07 518.33,401.37 519.24,400.66 520.15,399.94 521.06,399.21 521.97,398.46 522.88,397.71 523.79,396.94 524.70,396.16 525.61,395.36 526.52,394.56 527.43,393.74 528.34,392.91 529.25,392.06 530.16,391.21 531.07,390.34 531.98,389.46 532.89,388.56 533.80,387.65" fill="none" stroke="#b8304a" stroke-width="1.1" stroke-dasharray="3,2.6"/>
<polyline points="425.50,429.40 426.41,429.40 427.32,429.40 428.23,429.40 429.14,429.39 430.05,429.39 430.96,429.38 431.87,429.37 432.78,429.36 433.69,429.34 434.60,429.32 435.51,429.29 436.42,429.26 437.33,429.22 438.24,429.18 439.15,429.13 440.06,429.08 440.97,429.02 441.88,428.95 442.79,428.87 443.70,428.79 444.61,428.70 445.52,428.60 446.43,428.49 447.34,428.38 448.25,428.25 449.16,428.12 450.07,427.97 450.98,427.81 451.89,427.65 452.80,427.47 453.71,427.28 454.62,427.08 455.53,426.87 456.44,426.64 457.35,426.40 458.26,426.15 459.17,425.89 460.08,425.61 460.99,425.32 461.90,425.02 462.81,424.70 463.72,424.36 464.63,424.01 465.54,423.65 466.45,423.27 467.36,422.87 468.27,422.46 469.18,422.03 470.09,421.58 471.00,421.12 471.91,420.64 472.82,420.14 473.73,419.62 474.64,419.09 475.55,418.54 476.46,417.96 477.37,417.37 478.28,416.76 479.19,416.13 480.11,415.48 481.02,414.81 481.93,414.11 482.84,413.40 483.75,412.67 484.66,411.91 485.57,411.13 486.48,410.33 487.39,409.51 488.30,408.67 489.21,407.80 490.12,406.91 491.03,405.99 491.94,405.05 492.85,404.09 493.76,403.10 494.67,402.09 495.58,401.06 496.49,399.99 497.40,398.91 498.31,397.79 499.22,396.66 500.13,395.49 501.04,394.30 501.95,393.08 502.86,391.83 503.77,390.56 504.68,389.26 505.59,387.93 506.50,386.57 507.41,385.19 508.32,383.77 509.23,382.33 510.14,380.86 511.05,379.35 511.96,377.82 512.87,376.26 513.78,374.67 514.69,373.04 515.60,371.39 516.51,369.70 517.42,367.98 518.33,366.24 519.24,364.45 520.15,362.64 521.06,360.80 521.97,358.92 522.88,357.01 523.79,355.06 524.70,353.08 525.61,351.07 526.52,349.02 527.43,346.94 528.34,344.83 529.25,342.68 530.16,340.49 531.07,338.27 531.98,336.01 532.89,333.72 533.80,331.39" fill="none" stroke="#4dbdec" stroke-width="1.3"/>
<circle cx="438.50" cy="429.00" r="1.4" fill="none" stroke="#3e3e3e" stroke-width="0.8"/>
<circle cx="441.75" cy="428.77" r="1.4" fill="none" stroke="#3e3e3e" stroke-width="0.8"/>
<circle cx="444.99" cy="428.49" r="1.4" fill="none" stroke="#3e3e3e" stroke-width="0.8"/>
<circle cx="447.16" cy="428.28" r="1.4" fill="none" stroke="#3e3e3e" stroke-width="0.8"/>
<circle cx="451.93" cy="427.74" r="1.4" fill="none" stroke="#3e3e3e" stroke-width="0.8"/>
<circle cx="457.02" cy="427.03" r="1.4" fill="none" stroke="#3e3e3e" stroke-width="0.8"/>
<circle cx="465.35" cy="425.61" r="1.4" fill="none" stroke="#3e3e3e" stroke-width="0.8"/>
<circle cx="471.74" cy="424.30" r="1.4" fill="none" stroke="#3e3e3e" stroke-width="0.8"/>
<circle cx="478.57" cy="422.69" r="1.4" fill="none" stroke="#3e3e3e" stroke-width="0.8"/>
<circle cx="487.12" cy="420.35" r="1.4" fill="none" stroke="#3e3e3e" stroke-width="0.8"/>
<circle cx="493.51" cy="418.38" r="1.4" fill="none" stroke="#3e3e3e" stroke-width="0.8"/>
<circle cx="501.31" cy="415.70" r="1.4" fill="none" stroke="#3e3e3e" stroke-width="0.8"/>
<circle cx="506.83" cy="413.64" r="1.4" fill="none" stroke="#3e3e3e" stroke-width="0.8"/>
<circle cx="513.55" cy="410.93" r="1.4" fill="none" stroke="#3e3e3e" stroke-width="0.8"/>
<circle cx="521.78" cy="407.31" r="1.4" fill="none" stroke="#3e3e3e" stroke-width="0.8"/>
<circle cx="526.22" cy="405.23" r="1.4" fill="none" stroke="#3e3e3e" stroke-width="0.8"/>
<circle cx="528.93" cy="403.91" r="1.4" fill="none" stroke="#3e3e3e" stroke-width="0.8"/>
<circle cx="531.53" cy="402.61" r="1.4" fill="none" stroke="#3e3e3e" stroke-width="0.8"/>
<circle cx="533.80" cy="401.45" r="1.4" fill="none" stroke="#3e3e3e" stroke-width="0.8"/>
<path d="M437.30 428.82 L439.70 428.82 L438.50 426.62Z" fill="#5a1f2a"/>
<path d="M440.55 428.71 L442.94 428.71 L441.75 426.51Z" fill="#5a1f2a"/>
<path d="M443.79 428.55 L446.19 428.55 L444.99 426.35Z" fill="#5a1f2a"/>
<path d="M445.96 428.43 L448.36 428.43 L447.16 426.23Z" fill="#5a1f2a"/>
<path d="M450.73 428.05 L453.13 428.05 L451.93 425.85Z" fill="#5a1f2a"/>
<path d="M455.82 427.51 L458.22 427.51 L457.02 425.31Z" fill="#5a1f2a"/>
<path d="M464.15 426.24 L466.55 426.24 L465.35 424.04Z" fill="#5a1f2a"/>
<path d="M470.54 424.90 L472.94 424.90 L471.74 422.70Z" fill="#5a1f2a"/>
<path d="M477.37 423.08 L479.77 423.08 L478.57 420.88Z" fill="#5a1f2a"/>
<path d="M485.92 420.16 L488.32 420.16 L487.12 417.96Z" fill="#5a1f2a"/>
<path d="M492.31 417.47 L494.71 417.47 L493.51 415.27Z" fill="#5a1f2a"/>
<path d="M500.11 413.57 L502.51 413.57 L501.31 411.37Z" fill="#5a1f2a"/>
<path d="M505.63 410.35 L508.03 410.35 L506.83 408.15Z" fill="#5a1f2a"/>
<path d="M512.35 405.91 L514.75 405.91 L513.55 403.71Z" fill="#5a1f2a"/>
<path d="M520.58 399.62 L522.98 399.62 L521.78 397.42Z" fill="#5a1f2a"/>
<path d="M525.02 395.82 L527.42 395.82 L526.22 393.62Z" fill="#5a1f2a"/>
<path d="M527.73 393.37 L530.13 393.37 L528.93 391.17Z" fill="#5a1f2a"/>
<path d="M530.33 390.90 L532.73 390.90 L531.53 388.70Z" fill="#5a1f2a"/>
<path d="M532.60 388.65 L535.00 388.65 L533.80 386.45Z" fill="#5a1f2a"/>
<circle cx="438.50" cy="429.17" r="1.25" fill="#1a1a1a"/>
<circle cx="441.75" cy="428.96" r="1.25" fill="#1a1a1a"/>
<circle cx="444.99" cy="428.66" r="1.25" fill="#1a1a1a"/>
<circle cx="447.16" cy="428.40" r="1.25" fill="#1a1a1a"/>
<circle cx="451.93" cy="427.64" r="1.25" fill="#1a1a1a"/>
<circle cx="457.02" cy="426.49" r="1.25" fill="#1a1a1a"/>
<circle cx="465.35" cy="423.73" r="1.25" fill="#1a1a1a"/>
<circle cx="471.74" cy="420.73" r="1.25" fill="#1a1a1a"/>
<circle cx="478.57" cy="416.57" r="1.25" fill="#1a1a1a"/>
<circle cx="487.12" cy="409.75" r="1.25" fill="#1a1a1a"/>
<circle cx="493.51" cy="403.37" r="1.25" fill="#1a1a1a"/>
<circle cx="501.31" cy="393.94" r="1.25" fill="#1a1a1a"/>
<circle cx="506.83" cy="386.06" r="1.25" fill="#1a1a1a"/>
<circle cx="513.55" cy="375.07" r="1.25" fill="#1a1a1a"/>
<circle cx="521.78" cy="359.31" r="1.25" fill="#1a1a1a"/>
<circle cx="526.22" cy="349.70" r="1.25" fill="#1a1a1a"/>
<circle cx="528.93" cy="343.44" r="1.25" fill="#1a1a1a"/>
<circle cx="531.53" cy="337.14" r="1.25" fill="#1a1a1a"/>
<circle cx="533.80" cy="331.39" r="1.25" fill="#1a1a1a"/>
<rect x="427.80" y="323.40" width="77.70" height="42.00" fill="#fff" stroke="#bdbdbd" stroke-width="0.9"/>
<line x1="429.50" y1="330.60" x2="439.70" y2="330.60" stroke="#4dbdec" stroke-width="1.5"/>
<text transform="translate(441.10,332.90) scale(0.92,1)" class="lg">Fitted curve for C<tspan class="lsup" dy="-3.6">*</tspan><tspan class="lsub" dx="-1.7" dy="7.6">3333</tspan></text>
<line x1="429.50" y1="344.30" x2="439.70" y2="344.30" stroke="#b8304a" stroke-width="1.3" stroke-dasharray="4.3,2"/>
<text transform="translate(441.10,346.60) scale(0.92,1)" class="lg">Fitted curve for C<tspan class="lsup" dy="-3.6">*</tspan><tspan class="lsub" dx="-1.7" dy="7.6">1133</tspan></text>
<line x1="429.50" y1="357.80" x2="439.70" y2="357.80" stroke="#b0d080" stroke-width="1.2"/>
<text transform="translate(441.10,360.10) scale(0.92,1)" class="lg">Fitted curve for C<tspan class="lsup" dy="-3.6">*</tspan><tspan class="lsub" dx="-1.7" dy="7.6">3131</tspan></text>
<defs><filter id="bl1" x="-20%" y="-20%" width="140%" height="140%"><feGaussianBlur stdDeviation="0.9"/></filter><filter id="bl2" x="-20%" y="-20%" width="140%" height="140%"><feGaussianBlur stdDeviation="1.8"/></filter><filter id="bl05" x="-20%" y="-20%" width="140%" height="140%"><feGaussianBlur stdDeviation="0.45"/></filter><filter id="bl08" x="-20%" y="-20%" width="140%" height="140%"><feGaussianBlur stdDeviation="0.7"/></filter></defs>
<clipPath id="c1"><path d="M17.9 47.7 L26.5 48.2 L33.4 47.7 L39.4 46.0 L42.0 43.9 L50.0 43.2 L58.6 43.6 L66.0 44.5 L72.3 45.9 L76.8 47.3 L81.4 50.0 L82.6 54.5 L84.5 59.0 L90.5 62.7 L87.7 67.3 L85.0 71.8 L83.4 77.5 L82.2 83.5 L87.5 88.5 L83.6 97.2 L78.8 104.9 L74.0 104.5 L68.0 107.0 L64.3 110.7 L61.4 115.5 L54.7 117.5 L45.0 116.5 L37.6 116.2 L33.4 114.1 L30.8 109.8 L25.6 107.2 L22.2 105.5 L20.5 100.3 L16.2 92.6 L11.4 89.2 L16.2 84.5 L17.6 78.0 L16.6 72.5 L14.5 67.5 L8.4 62.8 L12.7 58.5 L15.3 56.3Z"/></clipPath>
<g id="s1"><path d="M17.9 47.7 L26.5 48.2 L33.4 47.7 L39.4 46.0 L42.0 43.9 L50.0 43.2 L58.6 43.6 L66.0 44.5 L72.3 45.9 L76.8 47.3 L81.4 50.0 L82.6 54.5 L84.5 59.0 L90.5 62.7 L87.7 67.3 L85.0 71.8 L83.4 77.5 L82.2 83.5 L87.5 88.5 L83.6 97.2 L78.8 104.9 L74.0 104.5 L68.0 107.0 L64.3 110.7 L61.4 115.5 L54.7 117.5 L45.0 116.5 L37.6 116.2 L33.4 114.1 L30.8 109.8 L25.6 107.2 L22.2 105.5 L20.5 100.3 L16.2 92.6 L11.4 89.2 L16.2 84.5 L17.6 78.0 L16.6 72.5 L14.5 67.5 L8.4 62.8 L12.7 58.5 L15.3 56.3Z" fill="#d0eac3" stroke="#bbd9ae" stroke-width="0.7" stroke-linejoin="round"/><g clip-path="url(#c1)"><g filter="url(#bl2)"><path d="M60 50 C68 48 76 48 81 51 L86 62 L84 100 L62 112 L58 82 Z" fill="#bddbaf"/><path d="M14 52 L28 50 L30 112 L20 104 L12 88 L11 62 Z" fill="#c1dfb3"/><path d="M20 49.5 C35 51 45 48.5 55 48 C65 48 72 50 80 52.5" fill="none" stroke="#b0d1a4" stroke-width="3"/></g><g filter="url(#bl08)"><ellipse cx="23.8" cy="75.5" rx="3.6" ry="8" fill="#91b787"/><ellipse cx="26.6" cy="76.5" rx="1.8" ry="6" fill="#d6efcb"/><ellipse cx="23" cy="58" rx="3" ry="4" fill="#abcda0"/><ellipse cx="25.5" cy="104" rx="3" ry="4" fill="#a2c598"/><ellipse cx="17" cy="62" rx="2.5" ry="3" fill="#d6efcb"/><ellipse cx="18" cy="92" rx="2.5" ry="4" fill="#d6efcb"/><path d="M72 96 C76 93 80 90 86 89" fill="none" stroke="#9fc294" stroke-width="2"/></g><g filter="url(#bl08)"><path d="M30.9 55.4 C40 53.5 50 53.5 58.6 55.4 C55 63 50.5 70 48.3 77.3 C42 76.5 36 76.8 30.5 77.5 C31.5 70 32 62 30.9 55.4Z" fill="#daf0ce"/><path d="M34 79.2 C44 78.6 54 79 61.3 80.4 C58 90 54 100 48.5 110.5 C44 106 38 100 35 93 C35 88 34.5 84 34 79.2Z" fill="#daf0ce"/><path d="M61 53 C68 51 75 50 80.5 51 C78 60 73 70 65 79 C63 80 62 80 61.3 80 C62 72 63 62 61 53Z" fill="#d2ebc7"/><path d="M83 52 C81 62 75 72 67 81 C64 86 63 90 63 93 L61 111 C64 109 67 105 70 99 C76 87 81 75 87 63Z" fill="#c2dfb5"/><path d="M28.5 53 C31 63 30 72 31.5 79" fill="none" stroke="#e4f6d9" stroke-width="2.2"/><path d="M32.5 82 C34 94 33 104 36 114" fill="none" stroke="#e4f6d9" stroke-width="2.2"/></g><g filter="url(#bl05)"><path d="M58.6 55.4 C55 63 50.5 70 48.3 77.3 C42 76.5 36 76.8 30.5 77.5" fill="none" stroke="#8ab081" stroke-width="1.1"/><path d="M61.3 80.4 C58 90 54 100 48.5 110.5" fill="none" stroke="#8ab081" stroke-width="1.1"/><path d="M58.6 55.4 C62 60 63 66 60.5 72 C59 76 59.5 79 61.3 80.4" fill="none" stroke="#97bb8c" stroke-width="1.0"/><path d="M81 50.5 C78.5 60 73 70 65 79 C62 84 60.8 88 60.8 91.5" fill="none" stroke="#ddf4d2" stroke-width="2.0"/><path d="M82.3 51 C80 61 74.5 71 66.5 80 C63.5 85 62.3 89 62.3 92" fill="none" stroke="#87ad7e" stroke-width="0.9"/><path d="M88 62.5 C82.5 75 76.5 88 70.8 100 C67 106 63.5 110 60.5 113" fill="none" stroke="#ddf4d2" stroke-width="2.0"/><path d="M89.3 63.5 C84 76 78 89 72.3 101 C68.5 107 65 111 62 114.5" fill="none" stroke="#87ad7e" stroke-width="0.9"/><path d="M87 89 C83.5 96 79.5 102 75.8 107" fill="none" stroke="#ddf4d2" stroke-width="1.8"/><path d="M88.2 90 C84.8 97 80.8 103 77 108" fill="none" stroke="#87ad7e" stroke-width="0.8"/><path d="M30.9 55.4 C40 53.5 50 53.5 58.6 55.4" fill="none" stroke="#a1c496" stroke-width="0.9"/></g><g filter="url(#bl05)"><ellipse cx="41.9" cy="63.2" rx="7.3" ry="7.8" fill="#d0e9c5" stroke="#769c6e" stroke-width="1.0"/><ellipse cx="37.6" cy="66.5" rx="2.6" ry="4.0" transform="rotate(15 37.6 66.5)" fill="#ffffff"/><ellipse cx="42.9" cy="94.5" rx="6.8" ry="7.4" fill="#d0e9c5" stroke="#769c6e" stroke-width="1.0"/><ellipse cx="39.0" cy="94.2" rx="2.3" ry="4.4" transform="rotate(20 39.0 94.2)" fill="#ffffff"/><ellipse cx="65.6" cy="57.3" rx="5.8" ry="5.8" fill="#d0e9c5" stroke="#769c6e" stroke-width="1.0"/><ellipse cx="68.0" cy="53.0" rx="2.3" ry="1.4" transform="rotate(0 68.0 53.0)" fill="#ffffff"/><ellipse cx="65.6" cy="85.2" rx="5.0" ry="5.6" fill="#d0e9c5" stroke="#769c6e" stroke-width="1.0"/><ellipse cx="47.5" cy="46.6" rx="4.6" ry="1.8" fill="#97bb8c"/><ellipse cx="47.8" cy="46.3" rx="3.3" ry="1.0" fill="#dbf0d1"/></g></g></g>
<clipPath id="c2"><path d="M11.3 190.5 L16.0 187.5 L23.1 185.6 L33.0 183.6 L45.0 182.8 L53.0 182.6 L62.9 183.2 L72.0 184.8 L82.9 188.4 L85.0 192.5 L88.4 198.1 L89.1 207.9 L88.4 217.6 L85.7 220.4 L83.6 223.2 L83.6 233.0 L82.9 240.0 L79.0 241.4 L75.9 241.3 L66.1 241.3 L65.0 247.0 L64.6 255.5 L57.0 253.6 L48.5 252.8 L40.0 253.6 L33.5 255.5 L33.2 248.0 L32.9 241.3 L23.1 241.3 L17.5 240.0 L16.8 230.2 L15.5 226.0 L13.4 220.4 L9.2 214.8 L8.5 206.0 L8.5 198.1Z"/></clipPath>
<g id="s2"><path d="M11.3 190.5 L16.0 187.5 L23.1 185.6 L33.0 183.6 L45.0 182.8 L53.0 182.6 L62.9 183.2 L72.0 184.8 L82.9 188.4 L85.0 192.5 L88.4 198.1 L89.1 207.9 L88.4 217.6 L85.7 220.4 L83.6 223.2 L83.6 233.0 L82.9 240.0 L79.0 241.4 L75.9 241.3 L66.1 241.3 L65.0 247.0 L64.6 255.5 L57.0 253.6 L48.5 252.8 L40.0 253.6 L33.5 255.5 L33.2 248.0 L32.9 241.3 L23.1 241.3 L17.5 240.0 L16.8 230.2 L15.5 226.0 L13.4 220.4 L9.2 214.8 L8.5 206.0 L8.5 198.1Z" fill="#d3edc7" stroke="#bddbb0" stroke-width="0.7" stroke-linejoin="round"/><g clip-path="url(#c2)"><g filter="url(#bl1)"><path d="M8.5 198 L21 199 C22 206 22 214 21 221 L13 220 L9 214 Z" fill="#dbf0d1"/><path d="M74 199 L89 198 L89 217 L84 222 L74 221 C73 214 73 206 74 199Z" fill="#dbf0d1"/><path d="M22.5 198 C25 206 25 216 22.5 224" fill="none" stroke="#97bb8c" stroke-width="2.6"/><path d="M72.5 198 C70 206 70 216 72.5 224" fill="none" stroke="#97bb8c" stroke-width="2.6"/><path d="M26 200 C30 210 38 218 46 222" fill="none" stroke="#b5d4a8" stroke-width="3"/><path d="M70 200 C66 210 58 218 51 222" fill="none" stroke="#b5d4a8" stroke-width="3"/><path d="M18 230 C22 229 30 229 33 231 L33 241 L18 240 Z" fill="#dbf0d1"/><path d="M65.5 231 C69 229 77 229 83 230 L83 240 L65.5 241 Z" fill="#dbf0d1"/><path d="M35 241 C40 239 56 239 63 241 L64 255 C56 253 42 253 34 255Z" fill="#ddf2d3"/><path d="M14 189 C28 184 68 184 84 189" fill="none" stroke="#b5d4a8" stroke-width="2.4"/></g><g filter="url(#bl05)"><path d="M17.5 229.5 C21 227 29 227 33 230" fill="none" stroke="#7fa677" stroke-width="1.3"/><path d="M65.5 230 C69 227 77 227 83 229.5" fill="none" stroke="#7fa677" stroke-width="1.3"/><path d="M35 241.5 C39 238 45 238 48.5 239.5 C52 238 58 238 63.5 241.5" fill="none" stroke="#769d6e" stroke-width="1.4"/><path d="M48.5 222 L48.5 238" fill="none" stroke="#97bb8c" stroke-width="1.1"/><path d="M12 193 C20 188 32 187 40 189.5 C45 187 53 187 58 189.5 C66 187 78 188 86 193" fill="none" stroke="#97bb8c" stroke-width="1.1"/></g><g filter="url(#bl05)"><path d="M30.5 192.5 C38 190 59 190 66.5 192.5 C64 205 56 213 48.6 220.5 C41 213 33 205 30.5 192.5Z" fill="#def2d4" stroke="#769d6e" stroke-width="1.1"/><path d="M34.5 195 C41 193.2 56 193.2 62.5 195 C60.5 204 54.5 210 48.6 215.5 C42.5 210 36.5 204 34.5 195Z" fill="#c9e4bc" stroke="#83ab7b" stroke-width="1.0"/><ellipse cx="49.2" cy="201.2" rx="7.0" ry="5.0" fill="#daf0d0" stroke="#769d6e" stroke-width="1.1"/><ellipse cx="49.6" cy="202.2" rx="5.6" ry="3.6" fill="#e2f4d9"/><ellipse cx="25.6" cy="196.0" rx="5.6" ry="3.8" fill="#ffffff" stroke="#719869" stroke-width="1.4"/><ellipse cx="72.0" cy="195.2" rx="6.0" ry="4.0" fill="#ffffff" stroke="#719869" stroke-width="1.4"/><ellipse cx="49.4" cy="188.8" rx="3.6" ry="1.4" fill="#ffffff" stroke="#8ab081" stroke-width="0.8"/></g></g></g>
<clipPath id="c3"><path d="M9.4 334.2 L18.0 333.0 L28.3 331.8 L38.0 330.4 L47.2 329.4 L58.0 329.8 L70.8 330.6 L80.0 332.5 L89.6 335.3 L89.4 345.0 L89.2 356.0 L89.4 366.0 L88.5 372.0 L86.4 377.0 L85.5 379.1 L80.9 382.7 L76.4 380.9 L72.7 386.4 L71.8 393.6 L63.6 399.1 L54.5 404.5 L48.2 408.2 L44.5 401.8 L36.4 397.3 L27.3 393.6 L21.8 388.2 L14.5 382.7 L13.6 377.3 L11.5 370.0 L10.6 362.0 L10.2 348.0Z"/></clipPath>
<g id="s3"><path d="M9.4 334.2 L18.0 333.0 L28.3 331.8 L38.0 330.4 L47.2 329.4 L58.0 329.8 L70.8 330.6 L80.0 332.5 L89.6 335.3 L89.4 345.0 L89.2 356.0 L89.4 366.0 L88.5 372.0 L86.4 377.0 L85.5 379.1 L80.9 382.7 L76.4 380.9 L72.7 386.4 L71.8 393.6 L63.6 399.1 L54.5 404.5 L48.2 408.2 L44.5 401.8 L36.4 397.3 L27.3 393.6 L21.8 388.2 L14.5 382.7 L13.6 377.3 L11.5 370.0 L10.6 362.0 L10.2 348.0Z" fill="#e8f5e1" stroke="#cddfc6" stroke-width="0.7" stroke-linejoin="round"/><g clip-path="url(#c3)"><g filter="url(#bl1)"><path d="M26 339 L75.5 337.7 L50.7 383.7 Z" fill="#f0f9eb"/><path d="M77 339 L88 337 L60 402 L53 398 Z" fill="#f2faee"/><path d="M10.6 336 L15.5 336 L16 380 L12 376 Z" fill="#f2faee"/><path d="M17.7 340 L24 338 L34 380 L26 384 Z" fill="#eef8e9"/><path d="M34 347 C38 350 40 355 41 362 C44 360 46 359 48 358 C50 356 52 351 54 347 C50 349 46 350 43 349 C40 348 37 347 34 347Z" fill="#a3b59e"/><ellipse cx="37" cy="357" rx="2.6" ry="3.5" fill="#b2c3ad"/><ellipse cx="53" cy="346" rx="1.8" ry="2.8" fill="#b2c3ad"/><path d="M22.4 346 C26 356 30 368 35.4 379" fill="none" stroke="#aebfa9" stroke-width="2.4"/><path d="M36 368 C40 374 44 379 48 384" fill="none" stroke="#a9baa4" stroke-width="2.0"/><path d="M12 352 C14 362 16 372 20 382" fill="none" stroke="#c0d0bb" stroke-width="1.8"/><path d="M14 335 C30 332 60 331 86 336" fill="none" stroke="#c8d8c3" stroke-width="2.0"/><ellipse cx="35.4" cy="333.5" rx="3.2" ry="1.6" fill="#a9baa4"/><ellipse cx="56.6" cy="334.2" rx="3.2" ry="1.6" fill="#a9baa4"/><ellipse cx="70.8" cy="338.5" rx="2.6" ry="1.8" fill="#b2c3ad"/><path d="M86 350 C82 362 76 374 70 386" fill="none" stroke="#c0d0bb" stroke-width="2.2"/><path d="M82 382 C79 383 76 384 73 387" fill="none" stroke="#a9baa4" stroke-width="1.6"/><path d="M19 386 C22 380 27 380 29 386" fill="none" stroke="#aebfa9" stroke-width="1.6"/><path d="M42 392 C44 386 50 386 52 392" fill="none" stroke="#aebfa9" stroke-width="1.6"/></g><g filter="url(#bl05)"><path d="M26 338.9 L50.7 383.7 L75.5 337.7" fill="none" stroke="#97a893" stroke-width="0.9"/><path d="M26 338.9 C40 338 60 337.5 75.5 337.7" fill="none" stroke="#aebfa9" stroke-width="0.8"/><path d="M88.4 337.7 L59 405" fill="none" stroke="#97a893" stroke-width="0.9"/><path d="M77.8 346 L51.9 400" fill="none" stroke="#97a893" stroke-width="0.9"/><path d="M16.5 338 C16.5 352 16.8 366 17.5 381" fill="none" stroke="#aebfa9" stroke-width="0.8"/><path d="M24.5 339 C27 352 30 365 34 378" fill="none" stroke="#aebfa9" stroke-width="0.8"/></g><g filter="url(#bl08)"><path d="M28 333 C32 336 38 336 42 333" fill="none" stroke="#9fb09a" stroke-width="1.6"/><path d="M46 334 C50 338 56 338 60 335" fill="none" stroke="#9fb09a" stroke-width="1.6"/><path d="M63 337 C67 341 72 342 76 339" fill="none" stroke="#9fb09a" stroke-width="1.6"/><path d="M27 356 C29 364 32 370 36 376" fill="none" stroke="#a4b59f" stroke-width="2.6"/><path d="M14 380 C18 384 22 388 28 390" fill="none" stroke="#a9baa4" stroke-width="1.4"/><path d="M30 392 C34 388 38 386 41 389" fill="none" stroke="#a9baa4" stroke-width="1.4"/><path d="M12 340 C14 345 15 350 15 356" fill="none" stroke="#b2c3ad" stroke-width="1.8"/><path d="M58 372 C60 366 63 360 66 352" fill="none" stroke="#b2c3ad" stroke-width="1.6"/></g></g></g>
</svg></body></html>
